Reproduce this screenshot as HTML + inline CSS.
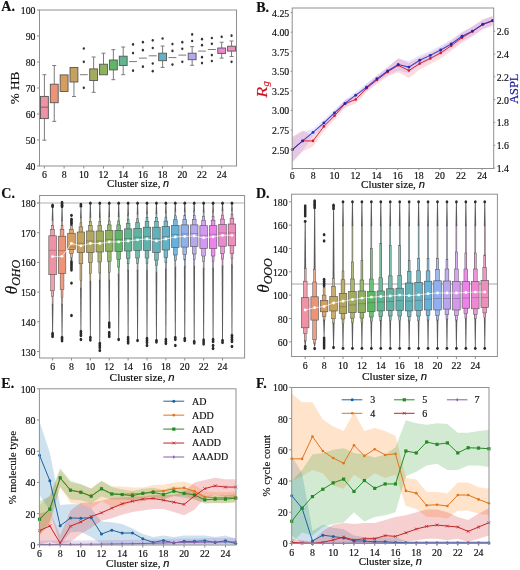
<!DOCTYPE html>
<html><head><meta charset="utf-8"><title>Figure</title>
<style>html,body{margin:0;padding:0;background:#fff;overflow:hidden;width:520px;height:570px}svg{display:block;filter:blur(0.3px)}</style>
</head><body>
<svg width="520" height="570" viewBox="0 0 520 570"><style>text{stroke:currentColor;stroke-width:0.18px}</style><line x1="44.4" y1="74.7" x2="44.4" y2="96.4" stroke="#7a7a7a" stroke-width="1"/>
<line x1="42.43" y1="74.7" x2="46.37" y2="74.7" stroke="#7a7a7a" stroke-width="1"/>
<line x1="44.4" y1="118.6" x2="44.4" y2="140.2" stroke="#7a7a7a" stroke-width="1"/>
<line x1="42.43" y1="140.2" x2="46.37" y2="140.2" stroke="#7a7a7a" stroke-width="1"/>
<rect x="40.46" y="96.4" width="7.88" height="22.2" fill="#ef92a3" stroke="#555555" stroke-width="0.9"/>
<line x1="40.46" y1="107.2" x2="48.34" y2="107.2" stroke="#5a5a5a" stroke-width="0.8"/>
<line x1="54.25" y1="65.5" x2="54.25" y2="84.2" stroke="#7a7a7a" stroke-width="1"/>
<line x1="52.28" y1="65.5" x2="56.22" y2="65.5" stroke="#7a7a7a" stroke-width="1"/>
<line x1="54.25" y1="102.7" x2="54.25" y2="121.4" stroke="#7a7a7a" stroke-width="1"/>
<line x1="52.28" y1="121.4" x2="56.22" y2="121.4" stroke="#7a7a7a" stroke-width="1"/>
<rect x="50.31" y="84.2" width="7.88" height="18.5" fill="#ed9378" stroke="#555555" stroke-width="0.9"/>
<rect x="60.16" y="74.9" width="7.88" height="16.6" fill="#d69d60" stroke="#555555" stroke-width="0.9"/>
<line x1="73.95" y1="82" x2="73.95" y2="96.5" stroke="#7a7a7a" stroke-width="1"/>
<line x1="71.98" y1="96.5" x2="75.92" y2="96.5" stroke="#7a7a7a" stroke-width="1"/>
<rect x="70.01" y="67.5" width="7.88" height="14.5" fill="#c3a35e" stroke="#555555" stroke-width="0.9"/>
<line x1="79.86" y1="74.7" x2="87.74" y2="74.7" stroke="#7a7a7a" stroke-width="1"/>
<ellipse cx="83.80" cy="48.50" rx="1.15" ry="1.35" fill="#333333"/>
<ellipse cx="83.80" cy="61.80" rx="1.15" ry="1.35" fill="#333333"/>
<ellipse cx="83.80" cy="87.80" rx="1.15" ry="1.35" fill="#333333"/>
<line x1="93.65" y1="57" x2="93.65" y2="68.9" stroke="#7a7a7a" stroke-width="1"/>
<line x1="91.68" y1="57" x2="95.62" y2="57" stroke="#7a7a7a" stroke-width="1"/>
<line x1="93.65" y1="80.5" x2="93.65" y2="92.3" stroke="#7a7a7a" stroke-width="1"/>
<line x1="91.68" y1="92.3" x2="95.62" y2="92.3" stroke="#7a7a7a" stroke-width="1"/>
<rect x="89.71" y="68.9" width="7.88" height="11.6" fill="#a3ab5c" stroke="#555555" stroke-width="0.9"/>
<line x1="103.5" y1="53.2" x2="103.5" y2="64.2" stroke="#7a7a7a" stroke-width="1"/>
<line x1="101.53" y1="53.2" x2="105.47" y2="53.2" stroke="#7a7a7a" stroke-width="1"/>
<rect x="99.56" y="64.2" width="7.88" height="10.6" fill="#8db15c" stroke="#555555" stroke-width="0.9"/>
<line x1="113.35" y1="49.7" x2="113.35" y2="60" stroke="#7a7a7a" stroke-width="1"/>
<line x1="111.38" y1="49.7" x2="115.32" y2="49.7" stroke="#7a7a7a" stroke-width="1"/>
<line x1="113.35" y1="69.9" x2="113.35" y2="79.7" stroke="#7a7a7a" stroke-width="1"/>
<line x1="111.38" y1="79.7" x2="115.32" y2="79.7" stroke="#7a7a7a" stroke-width="1"/>
<rect x="109.41" y="60" width="7.88" height="9.9" fill="#5db766" stroke="#555555" stroke-width="0.9"/>
<line x1="123.2" y1="47" x2="123.2" y2="56.2" stroke="#7a7a7a" stroke-width="1"/>
<line x1="121.23" y1="47" x2="125.17" y2="47" stroke="#7a7a7a" stroke-width="1"/>
<line x1="123.2" y1="65.5" x2="123.2" y2="74.7" stroke="#7a7a7a" stroke-width="1"/>
<line x1="121.23" y1="74.7" x2="125.17" y2="74.7" stroke="#7a7a7a" stroke-width="1"/>
<rect x="119.26" y="56.2" width="7.88" height="9.3" fill="#5eb590" stroke="#555555" stroke-width="0.9"/>
<line x1="129.11" y1="61.6" x2="136.99" y2="61.6" stroke="#7a7a7a" stroke-width="1"/>
<ellipse cx="133.05" cy="44.40" rx="1.15" ry="1.35" fill="#333333"/>
<ellipse cx="133.05" cy="53.10" rx="1.15" ry="1.35" fill="#333333"/>
<ellipse cx="133.05" cy="70.70" rx="1.15" ry="1.35" fill="#333333"/>
<line x1="138.96" y1="58.1" x2="146.84" y2="58.1" stroke="#7a7a7a" stroke-width="1"/>
<ellipse cx="142.90" cy="42.20" rx="1.15" ry="1.35" fill="#333333"/>
<ellipse cx="142.90" cy="50.20" rx="1.15" ry="1.35" fill="#333333"/>
<ellipse cx="142.90" cy="66.70" rx="1.15" ry="1.35" fill="#333333"/>
<line x1="148.81" y1="55.8" x2="156.69" y2="55.8" stroke="#7a7a7a" stroke-width="1"/>
<ellipse cx="152.75" cy="40.30" rx="1.15" ry="1.35" fill="#333333"/>
<ellipse cx="152.75" cy="48.00" rx="1.15" ry="1.35" fill="#333333"/>
<ellipse cx="152.75" cy="63.50" rx="1.15" ry="1.35" fill="#333333"/>
<ellipse cx="152.75" cy="71.20" rx="1.15" ry="1.35" fill="#333333"/>
<line x1="162.6" y1="46" x2="162.6" y2="53.2" stroke="#7a7a7a" stroke-width="1"/>
<line x1="160.63" y1="46" x2="164.57" y2="46" stroke="#7a7a7a" stroke-width="1"/>
<line x1="162.6" y1="60.7" x2="162.6" y2="67.4" stroke="#7a7a7a" stroke-width="1"/>
<line x1="160.63" y1="67.4" x2="164.57" y2="67.4" stroke="#7a7a7a" stroke-width="1"/>
<rect x="158.66" y="53.2" width="7.88" height="7.5" fill="#63b2c5" stroke="#555555" stroke-width="0.9"/>
<ellipse cx="162.60" cy="38.50" rx="1.15" ry="1.35" fill="#333333"/>
<line x1="168.51" y1="57.6" x2="176.39" y2="57.6" stroke="#7a7a7a" stroke-width="1"/>
<ellipse cx="172.45" cy="44.10" rx="1.15" ry="1.35" fill="#333333"/>
<ellipse cx="172.45" cy="50.90" rx="1.15" ry="1.35" fill="#333333"/>
<ellipse cx="172.45" cy="64.60" rx="1.15" ry="1.35" fill="#333333"/>
<line x1="178.36" y1="55.1" x2="186.24" y2="55.1" stroke="#7a7a7a" stroke-width="1"/>
<ellipse cx="182.30" cy="42.20" rx="1.15" ry="1.35" fill="#333333"/>
<ellipse cx="182.30" cy="48.80" rx="1.15" ry="1.35" fill="#333333"/>
<ellipse cx="182.30" cy="61.80" rx="1.15" ry="1.35" fill="#333333"/>
<line x1="192.15" y1="46.6" x2="192.15" y2="53.2" stroke="#7a7a7a" stroke-width="1"/>
<line x1="190.18" y1="46.6" x2="194.12" y2="46.6" stroke="#7a7a7a" stroke-width="1"/>
<line x1="192.15" y1="59.7" x2="192.15" y2="65.3" stroke="#7a7a7a" stroke-width="1"/>
<line x1="190.18" y1="65.3" x2="194.12" y2="65.3" stroke="#7a7a7a" stroke-width="1"/>
<rect x="188.21" y="53.2" width="7.88" height="6.5" fill="#b7a7ef" stroke="#555555" stroke-width="0.9"/>
<ellipse cx="192.15" cy="34.40" rx="1.15" ry="1.35" fill="#333333"/>
<ellipse cx="192.15" cy="41.00" rx="1.15" ry="1.35" fill="#333333"/>
<line x1="198.06" y1="51.1" x2="205.94" y2="51.1" stroke="#7a7a7a" stroke-width="1"/>
<ellipse cx="202.00" cy="39.20" rx="1.15" ry="1.35" fill="#333333"/>
<ellipse cx="202.00" cy="45.20" rx="1.15" ry="1.35" fill="#333333"/>
<ellipse cx="202.00" cy="57.20" rx="1.15" ry="1.35" fill="#333333"/>
<ellipse cx="202.00" cy="63.10" rx="1.15" ry="1.35" fill="#333333"/>
<line x1="207.91" y1="49.5" x2="215.79" y2="49.5" stroke="#7a7a7a" stroke-width="1"/>
<ellipse cx="211.85" cy="38.00" rx="1.15" ry="1.35" fill="#333333"/>
<ellipse cx="211.85" cy="43.80" rx="1.15" ry="1.35" fill="#333333"/>
<ellipse cx="211.85" cy="55.10" rx="1.15" ry="1.35" fill="#333333"/>
<ellipse cx="211.85" cy="61.00" rx="1.15" ry="1.35" fill="#333333"/>
<line x1="221.7" y1="42.2" x2="221.7" y2="48" stroke="#7a7a7a" stroke-width="1"/>
<line x1="219.73" y1="42.2" x2="223.67" y2="42.2" stroke="#7a7a7a" stroke-width="1"/>
<line x1="221.7" y1="53.4" x2="221.7" y2="58.1" stroke="#7a7a7a" stroke-width="1"/>
<line x1="219.73" y1="58.1" x2="223.67" y2="58.1" stroke="#7a7a7a" stroke-width="1"/>
<rect x="217.76" y="48" width="7.88" height="5.4" fill="#ed89d1" stroke="#555555" stroke-width="0.9"/>
<ellipse cx="221.70" cy="36.80" rx="1.15" ry="1.35" fill="#333333"/>
<line x1="231.55" y1="41" x2="231.55" y2="46.2" stroke="#7a7a7a" stroke-width="1"/>
<line x1="229.58" y1="41" x2="233.52" y2="41" stroke="#7a7a7a" stroke-width="1"/>
<line x1="231.55" y1="51.1" x2="231.55" y2="56.5" stroke="#7a7a7a" stroke-width="1"/>
<line x1="229.58" y1="56.5" x2="233.52" y2="56.5" stroke="#7a7a7a" stroke-width="1"/>
<rect x="227.61" y="46.2" width="7.88" height="4.9" fill="#ee8ebb" stroke="#555555" stroke-width="0.9"/>
<ellipse cx="231.55" cy="35.70" rx="1.15" ry="1.35" fill="#333333"/>
<ellipse cx="231.55" cy="61.80" rx="1.15" ry="1.35" fill="#333333"/>
<polygon points="292.4,136.6 302.6,130.4 313,135.4 323.9,121.9 334.5,111.8 345,99.7 355.7,95.5 366.5,84.3 376.9,76 387.6,67.4 398.2,58.3 408.9,63 419.7,57.6 430.3,52.9 440.7,47.4 451.2,40.7 462,32.7 472.4,26.5 482.8,19.5 492.6,16 492.6,26 482.8,29.5 472.4,36.5 462,42.7 451.2,50.7 440.7,58.4 430.3,63.9 419.7,69.6 408.9,78 398.2,72.3 387.6,76.4 376.9,84 366.5,92.3 355.7,103.5 345,107.7 334.5,119.8 323.9,130.9 313,146.4 302.6,151.4 292.4,162.6" fill="#f04a6a" stroke="none" stroke-width="1" fill-opacity="0.2"/>
<polygon points="292.4,137.6 302.6,131.4 313,128.9 323.9,119.4 334.5,109.4 345,99.9 355.7,91.7 366.5,83.8 376.9,75.3 387.6,67 398.2,58.5 408.9,61.1 419.7,55.3 430.3,50.9 440.7,45.5 451.2,39.5 462,31.8 472.4,26.6 482.8,19.7 492.6,15.9 492.6,24.9 482.8,28.7 472.4,35.6 462,40.8 451.2,48.5 440.7,54.5 430.3,59.9 419.7,65.3 408.9,73.1 398.2,70.5 387.6,75 376.9,82.3 366.5,90.8 355.7,98.7 345,106.9 334.5,116.4 323.9,126.4 313,135.9 302.6,150.4 292.4,161.6" fill="#6a66f0" stroke="none" stroke-width="1" fill-opacity="0.16"/>
<polyline points="292.4,149.6 302.6,140.9 313,140.9 323.9,126.4 334.5,115.8 345,103.7 355.7,99.5 366.5,88.3 376.9,80 387.6,71.9 398.2,65.3 408.9,70.5 419.7,63.6 430.3,58.4 440.7,52.9 451.2,45.7 462,37.7 472.4,31.5 482.8,24.5 492.6,21" fill="none" stroke="#d81c24" stroke-width="0.95"/>
<circle cx="292.4" cy="149.6" r="1.3" fill="#d01c24" stroke="none" stroke-width="0.5"/>
<circle cx="302.6" cy="140.9" r="1.3" fill="#d01c24" stroke="none" stroke-width="0.5"/>
<circle cx="313" cy="140.9" r="1.3" fill="#d01c24" stroke="none" stroke-width="0.5"/>
<circle cx="323.9" cy="126.4" r="1.3" fill="#d01c24" stroke="none" stroke-width="0.5"/>
<circle cx="334.5" cy="115.8" r="1.3" fill="#d01c24" stroke="none" stroke-width="0.5"/>
<circle cx="345" cy="103.7" r="1.3" fill="#d01c24" stroke="none" stroke-width="0.5"/>
<circle cx="355.7" cy="99.5" r="1.3" fill="#d01c24" stroke="none" stroke-width="0.5"/>
<circle cx="366.5" cy="88.3" r="1.3" fill="#d01c24" stroke="none" stroke-width="0.5"/>
<circle cx="376.9" cy="80" r="1.3" fill="#d01c24" stroke="none" stroke-width="0.5"/>
<circle cx="387.6" cy="71.9" r="1.3" fill="#d01c24" stroke="none" stroke-width="0.5"/>
<circle cx="398.2" cy="65.3" r="1.3" fill="#d01c24" stroke="none" stroke-width="0.5"/>
<circle cx="408.9" cy="70.5" r="1.3" fill="#d01c24" stroke="none" stroke-width="0.5"/>
<circle cx="419.7" cy="63.6" r="1.3" fill="#d01c24" stroke="none" stroke-width="0.5"/>
<circle cx="430.3" cy="58.4" r="1.3" fill="#d01c24" stroke="none" stroke-width="0.5"/>
<circle cx="440.7" cy="52.9" r="1.3" fill="#d01c24" stroke="none" stroke-width="0.5"/>
<circle cx="451.2" cy="45.7" r="1.3" fill="#d01c24" stroke="none" stroke-width="0.5"/>
<circle cx="462" cy="37.7" r="1.3" fill="#d01c24" stroke="none" stroke-width="0.5"/>
<circle cx="472.4" cy="31.5" r="1.3" fill="#d01c24" stroke="none" stroke-width="0.5"/>
<circle cx="482.8" cy="24.5" r="1.3" fill="#d01c24" stroke="none" stroke-width="0.5"/>
<circle cx="492.6" cy="21" r="1.3" fill="#d01c24" stroke="none" stroke-width="0.5"/>
<polyline points="292.4,149.6 302.6,140.9 313,132.4 323.9,122.9 334.5,112.9 345,103.4 355.7,95.2 366.5,87.3 376.9,78.8 387.6,71 398.2,64.5 408.9,67.1 419.7,60.3 430.3,55.4 440.7,50 451.2,44 462,36.3 472.4,31.1 482.8,24.2 492.6,20.4" fill="none" stroke="#2424c0" stroke-width="1.05" stroke-opacity="0.85"/>
<circle cx="292.4" cy="149.6" r="1.45" fill="#2222b0" stroke="none" stroke-width="0.5" fill-opacity="0.9"/>
<circle cx="302.6" cy="140.9" r="1.45" fill="#2222b0" stroke="none" stroke-width="0.5" fill-opacity="0.9"/>
<circle cx="313" cy="132.4" r="1.45" fill="#2222b0" stroke="none" stroke-width="0.5" fill-opacity="0.9"/>
<circle cx="323.9" cy="122.9" r="1.45" fill="#2222b0" stroke="none" stroke-width="0.5" fill-opacity="0.9"/>
<circle cx="334.5" cy="112.9" r="1.45" fill="#2222b0" stroke="none" stroke-width="0.5" fill-opacity="0.9"/>
<circle cx="345" cy="103.4" r="1.45" fill="#2222b0" stroke="none" stroke-width="0.5" fill-opacity="0.9"/>
<circle cx="355.7" cy="95.2" r="1.45" fill="#2222b0" stroke="none" stroke-width="0.5" fill-opacity="0.9"/>
<circle cx="366.5" cy="87.3" r="1.45" fill="#2222b0" stroke="none" stroke-width="0.5" fill-opacity="0.9"/>
<circle cx="376.9" cy="78.8" r="1.45" fill="#2222b0" stroke="none" stroke-width="0.5" fill-opacity="0.9"/>
<circle cx="387.6" cy="71" r="1.45" fill="#2222b0" stroke="none" stroke-width="0.5" fill-opacity="0.9"/>
<circle cx="398.2" cy="64.5" r="1.45" fill="#2222b0" stroke="none" stroke-width="0.5" fill-opacity="0.9"/>
<circle cx="408.9" cy="67.1" r="1.45" fill="#2222b0" stroke="none" stroke-width="0.5" fill-opacity="0.9"/>
<circle cx="419.7" cy="60.3" r="1.45" fill="#2222b0" stroke="none" stroke-width="0.5" fill-opacity="0.9"/>
<circle cx="430.3" cy="55.4" r="1.45" fill="#2222b0" stroke="none" stroke-width="0.5" fill-opacity="0.9"/>
<circle cx="440.7" cy="50" r="1.45" fill="#2222b0" stroke="none" stroke-width="0.5" fill-opacity="0.9"/>
<circle cx="451.2" cy="44" r="1.45" fill="#2222b0" stroke="none" stroke-width="0.5" fill-opacity="0.9"/>
<circle cx="462" cy="36.3" r="1.45" fill="#2222b0" stroke="none" stroke-width="0.5" fill-opacity="0.9"/>
<circle cx="472.4" cy="31.1" r="1.45" fill="#2222b0" stroke="none" stroke-width="0.5" fill-opacity="0.9"/>
<circle cx="482.8" cy="24.2" r="1.45" fill="#2222b0" stroke="none" stroke-width="0.5" fill-opacity="0.9"/>
<circle cx="492.6" cy="20.4" r="1.45" fill="#2222b0" stroke="none" stroke-width="0.5" fill-opacity="0.9"/>
<line x1="37.1" y1="203" x2="244.6" y2="203" stroke="#a6a6a6" stroke-width="0.9"/>
<polygon points="51.75,220.4 53.45,220.4 53.1,207.5 52.1,207.5" fill="#484848" stroke="none" stroke-width="1" fill-opacity="0.9"/>
<polygon points="51.75,303.4 53.45,303.4 53.05,332.4 52.15,332.4" fill="#484848" stroke="none" stroke-width="1" fill-opacity="0.9"/>
<rect x="52.13" y="220.4" width="0.94" height="83" fill="#f4b5c0" stroke="#505050" stroke-width="0.5"/>
<rect x="51.66" y="225.7" width="1.89" height="70.9" fill="#f2a9b6" stroke="#505050" stroke-width="0.5"/>
<rect x="50.71" y="229.6" width="3.78" height="61.2" fill="#f19ead" stroke="#505050" stroke-width="0.5"/>
<rect x="48.82" y="235.8" width="7.55" height="38.9" fill="#ef92a3" stroke="#505050" stroke-width="0.6"/>
<line x1="48.82" y1="250.3" x2="56.38" y2="250.3" stroke="#262626" stroke-width="0.7" stroke-opacity="0.35"/>
<ellipse cx="52.60" cy="205.20" rx="1.35" ry="1.65" fill="#2a2a2a"/>
<ellipse cx="52.60" cy="206.60" rx="1.35" ry="1.65" fill="#2a2a2a"/>
<ellipse cx="52.60" cy="333.50" rx="1.35" ry="1.65" fill="#2a2a2a"/>
<ellipse cx="52.60" cy="335.00" rx="1.35" ry="1.65" fill="#2a2a2a"/>
<ellipse cx="52.60" cy="336.60" rx="1.35" ry="1.65" fill="#2a2a2a"/>
<polygon points="61.19,221 62.89,221 62.54,207 61.54,207" fill="#484848" stroke="none" stroke-width="1" fill-opacity="0.9"/>
<polygon points="61.19,303.4 62.89,303.4 62.49,336.6 61.59,336.6" fill="#484848" stroke="none" stroke-width="1" fill-opacity="0.9"/>
<rect x="61.57" y="221" width="0.94" height="82.4" fill="#f3b6a3" stroke="#505050" stroke-width="0.5"/>
<rect x="61.1" y="225.5" width="1.89" height="72.1" fill="#f1aa95" stroke="#505050" stroke-width="0.5"/>
<rect x="60.15" y="229.5" width="3.78" height="60.2" fill="#ef9e86" stroke="#505050" stroke-width="0.5"/>
<rect x="58.26" y="236.2" width="7.55" height="37.2" fill="#ed9378" stroke="#505050" stroke-width="0.6"/>
<line x1="58.26" y1="250.5" x2="65.82" y2="250.5" stroke="#262626" stroke-width="0.7" stroke-opacity="0.35"/>
<ellipse cx="62.04" cy="202.50" rx="1.35" ry="1.65" fill="#2a2a2a"/>
<ellipse cx="62.04" cy="203.80" rx="1.35" ry="1.65" fill="#2a2a2a"/>
<ellipse cx="62.04" cy="205.20" rx="1.35" ry="1.65" fill="#2a2a2a"/>
<ellipse cx="62.04" cy="206.50" rx="1.35" ry="1.65" fill="#2a2a2a"/>
<ellipse cx="62.04" cy="337.50" rx="1.35" ry="1.65" fill="#2a2a2a"/>
<ellipse cx="62.04" cy="339.00" rx="1.35" ry="1.65" fill="#2a2a2a"/>
<ellipse cx="62.04" cy="340.80" rx="1.35" ry="1.65" fill="#2a2a2a"/>
<polygon points="70.54,257.5 72.42,257.5 71.93,271 71.03,271" fill="#484848" stroke="none" stroke-width="1" fill-opacity="0.9"/>
<rect x="70.54" y="225.4" width="1.89" height="32.1" fill="#dfb282" stroke="#505050" stroke-width="0.5"/>
<rect x="69.59" y="229.3" width="3.78" height="24.1" fill="#daa771" stroke="#505050" stroke-width="0.5"/>
<rect x="67.7" y="233.2" width="7.55" height="16.3" fill="#d69d60" stroke="#505050" stroke-width="0.6"/>
<line x1="67.7" y1="247" x2="75.26" y2="247" stroke="#262626" stroke-width="0.7" stroke-opacity="0.35"/>
<ellipse cx="71.48" cy="215.30" rx="1.35" ry="1.65" fill="#2a2a2a"/>
<ellipse cx="71.48" cy="219.20" rx="1.35" ry="1.65" fill="#2a2a2a"/>
<ellipse cx="71.48" cy="220.80" rx="1.35" ry="1.65" fill="#2a2a2a"/>
<ellipse cx="71.48" cy="222.40" rx="1.35" ry="1.65" fill="#2a2a2a"/>
<ellipse cx="71.48" cy="224.00" rx="1.35" ry="1.65" fill="#2a2a2a"/>
<ellipse cx="71.48" cy="262.00" rx="1.35" ry="1.65" fill="#2a2a2a"/>
<ellipse cx="71.48" cy="264.00" rx="1.35" ry="1.65" fill="#2a2a2a"/>
<ellipse cx="71.48" cy="266.00" rx="1.35" ry="1.65" fill="#2a2a2a"/>
<ellipse cx="71.48" cy="268.00" rx="1.35" ry="1.65" fill="#2a2a2a"/>
<ellipse cx="71.48" cy="270.00" rx="1.35" ry="1.65" fill="#2a2a2a"/>
<ellipse cx="71.48" cy="283.10" rx="1.35" ry="1.65" fill="#2a2a2a"/>
<ellipse cx="71.48" cy="315.50" rx="1.35" ry="1.65" fill="#2a2a2a"/>
<polygon points="80.07,218 81.77,218 81.42,208 80.42,208" fill="#484848" stroke="none" stroke-width="1" fill-opacity="0.9"/>
<polygon points="80.07,288 81.77,288 81.37,330 80.47,330" fill="#484848" stroke="none" stroke-width="1" fill-opacity="0.9"/>
<rect x="80.45" y="218" width="0.94" height="70" fill="#d6c091" stroke="#505050" stroke-width="0.5"/>
<rect x="79.98" y="222.9" width="1.89" height="57.8" fill="#d0b680" stroke="#505050" stroke-width="0.5"/>
<rect x="79.03" y="226.9" width="3.78" height="36.9" fill="#c9ad6f" stroke="#505050" stroke-width="0.5"/>
<rect x="77.14" y="232" width="7.55" height="20.5" fill="#c3a35e" stroke="#505050" stroke-width="0.6"/>
<line x1="77.14" y1="243.3" x2="84.7" y2="243.3" stroke="#262626" stroke-width="0.7" stroke-opacity="0.35"/>
<ellipse cx="80.92" cy="204.50" rx="1.35" ry="1.65" fill="#2a2a2a"/>
<ellipse cx="80.92" cy="206.20" rx="1.35" ry="1.65" fill="#2a2a2a"/>
<ellipse cx="80.92" cy="331.50" rx="1.35" ry="1.65" fill="#2a2a2a"/>
<ellipse cx="80.92" cy="333.50" rx="1.35" ry="1.65" fill="#2a2a2a"/>
<ellipse cx="80.92" cy="335.50" rx="1.35" ry="1.65" fill="#2a2a2a"/>
<ellipse cx="80.92" cy="339.50" rx="1.35" ry="1.65" fill="#2a2a2a"/>
<polygon points="89.51,217.5 91.21,217.5 90.86,203.5 89.86,203.5" fill="#484848" stroke="none" stroke-width="1" fill-opacity="0.9"/>
<polygon points="89.51,280.6 91.21,280.6 90.81,336.7 89.91,336.7" fill="#484848" stroke="none" stroke-width="1" fill-opacity="0.9"/>
<rect x="89.89" y="217.5" width="0.94" height="63.1" fill="#cbc391" stroke="#505050" stroke-width="0.5"/>
<rect x="89.42" y="221.5" width="1.89" height="52.1" fill="#c3ba80" stroke="#505050" stroke-width="0.5"/>
<rect x="88.47" y="225.5" width="3.78" height="37.1" fill="#bbb06e" stroke="#505050" stroke-width="0.5"/>
<rect x="86.58" y="231" width="7.55" height="21.6" fill="#b3a75d" stroke="#505050" stroke-width="0.6"/>
<line x1="86.58" y1="241" x2="94.14" y2="241" stroke="#262626" stroke-width="0.7" stroke-opacity="0.35"/>
<ellipse cx="90.36" cy="203.20" rx="1.35" ry="1.65" fill="#2a2a2a"/>
<ellipse cx="90.36" cy="337.50" rx="1.35" ry="1.65" fill="#2a2a2a"/>
<ellipse cx="90.36" cy="340.00" rx="1.35" ry="1.65" fill="#2a2a2a"/>
<polygon points="98.95,217.5 100.65,217.5 100.3,203.5 99.3,203.5" fill="#484848" stroke="none" stroke-width="1" fill-opacity="0.9"/>
<polygon points="98.95,280 100.65,280 100.25,342.7 99.35,342.7" fill="#484848" stroke="none" stroke-width="1" fill-opacity="0.9"/>
<rect x="99.33" y="217.5" width="0.94" height="62.5" fill="#c0c690" stroke="#505050" stroke-width="0.5"/>
<rect x="98.86" y="221.5" width="1.89" height="51.5" fill="#b6bd7f" stroke="#505050" stroke-width="0.5"/>
<rect x="97.91" y="225.5" width="3.78" height="36.5" fill="#adb46d" stroke="#505050" stroke-width="0.5"/>
<rect x="96.02" y="231" width="7.55" height="21" fill="#a3ab5c" stroke="#505050" stroke-width="0.6"/>
<line x1="96.02" y1="241" x2="103.58" y2="241" stroke="#262626" stroke-width="0.7" stroke-opacity="0.35"/>
<ellipse cx="99.80" cy="203.20" rx="1.35" ry="1.65" fill="#2a2a2a"/>
<ellipse cx="99.80" cy="343.50" rx="1.35" ry="1.65" fill="#2a2a2a"/>
<ellipse cx="99.80" cy="345.50" rx="1.35" ry="1.65" fill="#2a2a2a"/>
<ellipse cx="99.80" cy="347.50" rx="1.35" ry="1.65" fill="#2a2a2a"/>
<ellipse cx="99.80" cy="350.50" rx="1.35" ry="1.65" fill="#2a2a2a"/>
<polygon points="108.39,216.9 110.09,216.9 109.74,203.5 108.74,203.5" fill="#484848" stroke="none" stroke-width="1" fill-opacity="0.9"/>
<polygon points="108.39,279.2 110.09,279.2 109.69,322.5 108.79,322.5" fill="#484848" stroke="none" stroke-width="1" fill-opacity="0.9"/>
<rect x="108.77" y="216.9" width="0.94" height="62.3" fill="#b1ca90" stroke="#505050" stroke-width="0.5"/>
<rect x="108.3" y="220.9" width="1.89" height="51.3" fill="#a5c27f" stroke="#505050" stroke-width="0.5"/>
<rect x="107.35" y="224.9" width="3.78" height="36.3" fill="#99b96d" stroke="#505050" stroke-width="0.5"/>
<rect x="105.46" y="230.4" width="7.55" height="20.8" fill="#8db15c" stroke="#505050" stroke-width="0.6"/>
<line x1="105.46" y1="239.4" x2="113.02" y2="239.4" stroke="#262626" stroke-width="0.7" stroke-opacity="0.35"/>
<ellipse cx="109.24" cy="203.20" rx="1.35" ry="1.65" fill="#2a2a2a"/>
<ellipse cx="109.24" cy="323.00" rx="1.35" ry="1.65" fill="#2a2a2a"/>
<ellipse cx="109.24" cy="325.00" rx="1.35" ry="1.65" fill="#2a2a2a"/>
<ellipse cx="109.24" cy="327.00" rx="1.35" ry="1.65" fill="#2a2a2a"/>
<ellipse cx="109.24" cy="332.50" rx="1.35" ry="1.65" fill="#2a2a2a"/>
<ellipse cx="109.24" cy="334.50" rx="1.35" ry="1.65" fill="#2a2a2a"/>
<ellipse cx="109.24" cy="336.50" rx="1.35" ry="1.65" fill="#2a2a2a"/>
<polygon points="117.83,216.9 119.53,216.9 119.18,203.5 118.18,203.5" fill="#484848" stroke="none" stroke-width="1" fill-opacity="0.9"/>
<polygon points="117.83,273.6 119.53,273.6 119.13,338.7 118.23,338.7" fill="#484848" stroke="none" stroke-width="1" fill-opacity="0.9"/>
<rect x="118.21" y="216.9" width="0.94" height="56.7" fill="#91ce97" stroke="#505050" stroke-width="0.5"/>
<rect x="117.74" y="220.9" width="1.89" height="46.2" fill="#80c686" stroke="#505050" stroke-width="0.5"/>
<rect x="116.79" y="224.9" width="3.78" height="34.7" fill="#6ebf76" stroke="#505050" stroke-width="0.5"/>
<rect x="114.9" y="230.4" width="7.55" height="21.2" fill="#5db766" stroke="#505050" stroke-width="0.6"/>
<line x1="114.9" y1="239.4" x2="122.46" y2="239.4" stroke="#262626" stroke-width="0.7" stroke-opacity="0.35"/>
<ellipse cx="118.68" cy="203.20" rx="1.35" ry="1.65" fill="#2a2a2a"/>
<ellipse cx="118.68" cy="339.50" rx="1.35" ry="1.65" fill="#2a2a2a"/>
<polygon points="127.27,215.4 128.97,215.4 128.62,203.5 127.62,203.5" fill="#484848" stroke="none" stroke-width="1" fill-opacity="0.9"/>
<polygon points="127.27,270 128.97,270 128.57,336.7 127.67,336.7" fill="#484848" stroke="none" stroke-width="1" fill-opacity="0.9"/>
<rect x="127.65" y="215.4" width="0.94" height="54.6" fill="#91cdb3" stroke="#505050" stroke-width="0.5"/>
<rect x="127.18" y="219.4" width="1.89" height="44.4" fill="#80c5a8" stroke="#505050" stroke-width="0.5"/>
<rect x="126.23" y="223.4" width="3.78" height="35.1" fill="#6fbd9c" stroke="#505050" stroke-width="0.5"/>
<rect x="124.34" y="228.9" width="7.55" height="22.1" fill="#5eb590" stroke="#505050" stroke-width="0.6"/>
<line x1="124.34" y1="238.5" x2="131.9" y2="238.5" stroke="#262626" stroke-width="0.7" stroke-opacity="0.35"/>
<ellipse cx="128.12" cy="203.20" rx="1.35" ry="1.65" fill="#2a2a2a"/>
<ellipse cx="128.12" cy="337.50" rx="1.35" ry="1.65" fill="#2a2a2a"/>
<ellipse cx="128.12" cy="339.50" rx="1.35" ry="1.65" fill="#2a2a2a"/>
<ellipse cx="128.12" cy="341.50" rx="1.35" ry="1.65" fill="#2a2a2a"/>
<ellipse cx="128.12" cy="343.00" rx="1.35" ry="1.65" fill="#2a2a2a"/>
<polygon points="136.71,214.8 138.41,214.8 138.06,203.5 137.06,203.5" fill="#484848" stroke="none" stroke-width="1" fill-opacity="0.9"/>
<polygon points="136.71,269.5 138.41,269.5 138.01,339.7 137.11,339.7" fill="#484848" stroke="none" stroke-width="1" fill-opacity="0.9"/>
<rect x="137.09" y="214.8" width="0.94" height="54.7" fill="#92ccbf" stroke="#505050" stroke-width="0.5"/>
<rect x="136.62" y="218.8" width="1.89" height="44.5" fill="#81c4b5" stroke="#505050" stroke-width="0.5"/>
<rect x="135.67" y="222.8" width="3.78" height="35.2" fill="#70bcab" stroke="#505050" stroke-width="0.5"/>
<rect x="133.78" y="228.3" width="7.55" height="22.2" fill="#5fb4a1" stroke="#505050" stroke-width="0.6"/>
<line x1="133.78" y1="237.3" x2="141.34" y2="237.3" stroke="#262626" stroke-width="0.7" stroke-opacity="0.35"/>
<ellipse cx="137.56" cy="203.20" rx="1.35" ry="1.65" fill="#2a2a2a"/>
<ellipse cx="137.56" cy="340.50" rx="1.35" ry="1.65" fill="#2a2a2a"/>
<polygon points="146.15,213.7 147.85,213.7 147.5,203.5 146.5,203.5" fill="#484848" stroke="none" stroke-width="1" fill-opacity="0.9"/>
<polygon points="146.15,269.5 147.85,269.5 147.45,337.7 146.55,337.7" fill="#484848" stroke="none" stroke-width="1" fill-opacity="0.9"/>
<rect x="146.53" y="213.7" width="0.94" height="55.8" fill="#93cbc7" stroke="#505050" stroke-width="0.5"/>
<rect x="146.06" y="217.7" width="1.89" height="45.6" fill="#82c3be" stroke="#505050" stroke-width="0.5"/>
<rect x="145.11" y="221.7" width="3.78" height="36.3" fill="#71bbb6" stroke="#505050" stroke-width="0.5"/>
<rect x="143.22" y="227.2" width="7.55" height="23.3" fill="#60b3ad" stroke="#505050" stroke-width="0.6"/>
<line x1="143.22" y1="236.5" x2="150.78" y2="236.5" stroke="#262626" stroke-width="0.7" stroke-opacity="0.35"/>
<ellipse cx="147.00" cy="203.20" rx="1.35" ry="1.65" fill="#2a2a2a"/>
<ellipse cx="147.00" cy="338.50" rx="1.35" ry="1.65" fill="#2a2a2a"/>
<ellipse cx="147.00" cy="340.50" rx="1.35" ry="1.65" fill="#2a2a2a"/>
<ellipse cx="147.00" cy="342.50" rx="1.35" ry="1.65" fill="#2a2a2a"/>
<ellipse cx="147.00" cy="345.50" rx="1.35" ry="1.65" fill="#2a2a2a"/>
<polygon points="155.59,213.7 157.29,213.7 156.94,203.5 155.94,203.5" fill="#484848" stroke="none" stroke-width="1" fill-opacity="0.9"/>
<polygon points="155.59,271.6 157.29,271.6 156.89,339.7 155.99,339.7" fill="#484848" stroke="none" stroke-width="1" fill-opacity="0.9"/>
<rect x="155.97" y="213.7" width="0.94" height="57.9" fill="#93cace" stroke="#505050" stroke-width="0.5"/>
<rect x="155.5" y="217.7" width="1.89" height="47.7" fill="#82c2c7" stroke="#505050" stroke-width="0.5"/>
<rect x="154.55" y="221.7" width="3.78" height="38.4" fill="#72bac0" stroke="#505050" stroke-width="0.5"/>
<rect x="152.66" y="227.2" width="7.55" height="25.4" fill="#61b2b8" stroke="#505050" stroke-width="0.6"/>
<line x1="152.66" y1="238.5" x2="160.22" y2="238.5" stroke="#262626" stroke-width="0.7" stroke-opacity="0.35"/>
<ellipse cx="156.44" cy="203.20" rx="1.35" ry="1.65" fill="#2a2a2a"/>
<ellipse cx="156.44" cy="340.50" rx="1.35" ry="1.65" fill="#2a2a2a"/>
<ellipse cx="156.44" cy="342.00" rx="1.35" ry="1.65" fill="#2a2a2a"/>
<polygon points="165.03,213.1 166.73,213.1 166.38,203.5 165.38,203.5" fill="#484848" stroke="none" stroke-width="1" fill-opacity="0.9"/>
<polygon points="165.03,269 166.73,269 166.33,338.7 165.43,338.7" fill="#484848" stroke="none" stroke-width="1" fill-opacity="0.9"/>
<rect x="165.41" y="213.1" width="0.94" height="55.9" fill="#95cad7" stroke="#505050" stroke-width="0.5"/>
<rect x="164.94" y="217.1" width="1.89" height="45.7" fill="#84c2d1" stroke="#505050" stroke-width="0.5"/>
<rect x="163.99" y="221.1" width="3.78" height="36.4" fill="#74bacb" stroke="#505050" stroke-width="0.5"/>
<rect x="162.1" y="226.6" width="7.55" height="23.4" fill="#63b2c5" stroke="#505050" stroke-width="0.6"/>
<line x1="162.1" y1="236.5" x2="169.66" y2="236.5" stroke="#262626" stroke-width="0.7" stroke-opacity="0.35"/>
<ellipse cx="165.88" cy="203.20" rx="1.35" ry="1.65" fill="#2a2a2a"/>
<ellipse cx="165.88" cy="339.50" rx="1.35" ry="1.65" fill="#2a2a2a"/>
<ellipse cx="165.88" cy="341.50" rx="1.35" ry="1.65" fill="#2a2a2a"/>
<ellipse cx="165.88" cy="343.50" rx="1.35" ry="1.65" fill="#2a2a2a"/>
<polygon points="174.47,211.8 176.17,211.8 175.82,203.5 174.82,203.5" fill="#484848" stroke="none" stroke-width="1" fill-opacity="0.9"/>
<polygon points="174.47,266.5 176.17,266.5 175.77,336.7 174.87,336.7" fill="#484848" stroke="none" stroke-width="1" fill-opacity="0.9"/>
<rect x="174.85" y="211.8" width="0.94" height="54.7" fill="#97cae5" stroke="#505050" stroke-width="0.5"/>
<rect x="174.38" y="215.8" width="1.89" height="44.5" fill="#87c2e1" stroke="#505050" stroke-width="0.5"/>
<rect x="173.43" y="219.8" width="3.78" height="35.2" fill="#77b9dd" stroke="#505050" stroke-width="0.5"/>
<rect x="171.54" y="225.3" width="7.55" height="22.2" fill="#67b1d9" stroke="#505050" stroke-width="0.6"/>
<line x1="171.54" y1="234.5" x2="179.1" y2="234.5" stroke="#262626" stroke-width="0.7" stroke-opacity="0.35"/>
<ellipse cx="175.32" cy="203.20" rx="1.35" ry="1.65" fill="#2a2a2a"/>
<ellipse cx="175.32" cy="337.50" rx="1.35" ry="1.65" fill="#2a2a2a"/>
<ellipse cx="175.32" cy="339.50" rx="1.35" ry="1.65" fill="#2a2a2a"/>
<ellipse cx="175.32" cy="345.50" rx="1.35" ry="1.65" fill="#2a2a2a"/>
<polygon points="183.91,211.4 185.61,211.4 185.26,203.5 184.26,203.5" fill="#484848" stroke="none" stroke-width="1" fill-opacity="0.9"/>
<polygon points="183.91,266.1 185.61,266.1 185.21,337.7 184.31,337.7" fill="#484848" stroke="none" stroke-width="1" fill-opacity="0.9"/>
<rect x="184.29" y="211.4" width="0.94" height="54.7" fill="#b3c8f3" stroke="#505050" stroke-width="0.5"/>
<rect x="183.82" y="215.4" width="1.89" height="44.5" fill="#a8c0f1" stroke="#505050" stroke-width="0.5"/>
<rect x="182.87" y="219.4" width="3.78" height="35.2" fill="#9cb8ef" stroke="#505050" stroke-width="0.5"/>
<rect x="180.98" y="224.9" width="7.55" height="22.2" fill="#90afed" stroke="#505050" stroke-width="0.6"/>
<line x1="180.98" y1="233.9" x2="188.54" y2="233.9" stroke="#262626" stroke-width="0.7" stroke-opacity="0.35"/>
<ellipse cx="184.76" cy="203.20" rx="1.35" ry="1.65" fill="#2a2a2a"/>
<ellipse cx="184.76" cy="338.50" rx="1.35" ry="1.65" fill="#2a2a2a"/>
<ellipse cx="184.76" cy="340.50" rx="1.35" ry="1.65" fill="#2a2a2a"/>
<polygon points="193.35,211.4 195.05,211.4 194.7,203.5 193.7,203.5" fill="#484848" stroke="none" stroke-width="1" fill-opacity="0.9"/>
<polygon points="193.35,265.5 195.05,265.5 194.65,340.7 193.75,340.7" fill="#484848" stroke="none" stroke-width="1" fill-opacity="0.9"/>
<rect x="193.73" y="211.4" width="0.94" height="54.1" fill="#cec3f4" stroke="#505050" stroke-width="0.5"/>
<rect x="193.26" y="215.4" width="1.89" height="43.9" fill="#c6baf2" stroke="#505050" stroke-width="0.5"/>
<rect x="192.31" y="219.4" width="3.78" height="34.6" fill="#bfb0f1" stroke="#505050" stroke-width="0.5"/>
<rect x="190.42" y="224.9" width="7.55" height="21.6" fill="#b7a7ef" stroke="#505050" stroke-width="0.6"/>
<line x1="190.42" y1="233.5" x2="197.98" y2="233.5" stroke="#262626" stroke-width="0.7" stroke-opacity="0.35"/>
<ellipse cx="194.20" cy="203.20" rx="1.35" ry="1.65" fill="#2a2a2a"/>
<ellipse cx="194.20" cy="341.50" rx="1.35" ry="1.65" fill="#2a2a2a"/>
<ellipse cx="194.20" cy="343.00" rx="1.35" ry="1.65" fill="#2a2a2a"/>
<polygon points="202.79,212.2 204.49,212.2 204.14,203.5 203.14,203.5" fill="#484848" stroke="none" stroke-width="1" fill-opacity="0.9"/>
<polygon points="202.79,267.5 204.49,267.5 204.09,339 203.19,339" fill="#484848" stroke="none" stroke-width="1" fill-opacity="0.9"/>
<rect x="203.17" y="212.2" width="0.94" height="55.3" fill="#e0baf3" stroke="#505050" stroke-width="0.5"/>
<rect x="202.7" y="216.2" width="1.89" height="45.1" fill="#dcaff2" stroke="#505050" stroke-width="0.5"/>
<rect x="201.75" y="220.2" width="3.78" height="35.8" fill="#d7a4f0" stroke="#505050" stroke-width="0.5"/>
<rect x="199.86" y="225.7" width="7.55" height="22.8" fill="#d299ee" stroke="#505050" stroke-width="0.6"/>
<line x1="199.86" y1="235.3" x2="207.42" y2="235.3" stroke="#262626" stroke-width="0.7" stroke-opacity="0.35"/>
<ellipse cx="203.64" cy="203.20" rx="1.35" ry="1.65" fill="#2a2a2a"/>
<ellipse cx="203.64" cy="340.00" rx="1.35" ry="1.65" fill="#2a2a2a"/>
<ellipse cx="203.64" cy="342.00" rx="1.35" ry="1.65" fill="#2a2a2a"/>
<ellipse cx="203.64" cy="344.00" rx="1.35" ry="1.65" fill="#2a2a2a"/>
<polygon points="212.23,212.2 213.93,212.2 213.58,203.5 212.58,203.5" fill="#484848" stroke="none" stroke-width="1" fill-opacity="0.9"/>
<polygon points="212.23,267.5 213.93,267.5 213.53,338.7 212.63,338.7" fill="#484848" stroke="none" stroke-width="1" fill-opacity="0.9"/>
<rect x="212.61" y="212.2" width="0.94" height="55.3" fill="#f2aaf1" stroke="#505050" stroke-width="0.5"/>
<rect x="212.14" y="216.2" width="1.89" height="45.1" fill="#f09cee" stroke="#505050" stroke-width="0.5"/>
<rect x="211.19" y="220.2" width="3.78" height="35.8" fill="#ee8fec" stroke="#505050" stroke-width="0.5"/>
<rect x="209.3" y="225.7" width="7.55" height="22.8" fill="#ec82ea" stroke="#505050" stroke-width="0.6"/>
<line x1="209.3" y1="234.3" x2="216.86" y2="234.3" stroke="#262626" stroke-width="0.7" stroke-opacity="0.35"/>
<ellipse cx="213.08" cy="203.20" rx="1.35" ry="1.65" fill="#2a2a2a"/>
<ellipse cx="213.08" cy="339.50" rx="1.35" ry="1.65" fill="#2a2a2a"/>
<ellipse cx="213.08" cy="341.50" rx="1.35" ry="1.65" fill="#2a2a2a"/>
<ellipse cx="213.08" cy="345.50" rx="1.35" ry="1.65" fill="#2a2a2a"/>
<ellipse cx="213.08" cy="348.50" rx="1.35" ry="1.65" fill="#2a2a2a"/>
<polygon points="221.67,211.1 223.37,211.1 223.02,203.5 222.02,203.5" fill="#484848" stroke="none" stroke-width="1" fill-opacity="0.9"/>
<polygon points="221.67,265.2 223.37,265.2 222.97,339.7 222.07,339.7" fill="#484848" stroke="none" stroke-width="1" fill-opacity="0.9"/>
<rect x="222.05" y="211.1" width="0.94" height="54.1" fill="#f3aee0" stroke="#505050" stroke-width="0.5"/>
<rect x="221.58" y="215.1" width="1.89" height="43.9" fill="#f1a2db" stroke="#505050" stroke-width="0.5"/>
<rect x="220.63" y="219.1" width="3.78" height="34.6" fill="#ef96d6" stroke="#505050" stroke-width="0.5"/>
<rect x="218.74" y="224.6" width="7.55" height="21.6" fill="#ed89d1" stroke="#505050" stroke-width="0.6"/>
<line x1="218.74" y1="232.9" x2="226.3" y2="232.9" stroke="#262626" stroke-width="0.7" stroke-opacity="0.35"/>
<ellipse cx="222.52" cy="203.20" rx="1.35" ry="1.65" fill="#2a2a2a"/>
<ellipse cx="222.52" cy="340.50" rx="1.35" ry="1.65" fill="#2a2a2a"/>
<ellipse cx="222.52" cy="342.50" rx="1.35" ry="1.65" fill="#2a2a2a"/>
<polygon points="231.11,210.5 232.81,210.5 232.46,203.5 231.46,203.5" fill="#484848" stroke="none" stroke-width="1" fill-opacity="0.9"/>
<polygon points="231.11,264.8 232.81,264.8 232.41,334.6 231.51,334.6" fill="#484848" stroke="none" stroke-width="1" fill-opacity="0.9"/>
<rect x="231.49" y="210.5" width="0.94" height="54.3" fill="#f3b2d1" stroke="#505050" stroke-width="0.5"/>
<rect x="231.02" y="214.5" width="1.89" height="44.1" fill="#f2a6ca" stroke="#505050" stroke-width="0.5"/>
<rect x="230.07" y="218.5" width="3.78" height="34.8" fill="#f09ac2" stroke="#505050" stroke-width="0.5"/>
<rect x="228.18" y="224" width="7.55" height="21.8" fill="#ee8ebb" stroke="#505050" stroke-width="0.6"/>
<line x1="228.18" y1="232.8" x2="235.74" y2="232.8" stroke="#262626" stroke-width="0.7" stroke-opacity="0.35"/>
<ellipse cx="231.96" cy="203.20" rx="1.35" ry="1.65" fill="#2a2a2a"/>
<ellipse cx="231.96" cy="335.50" rx="1.35" ry="1.65" fill="#2a2a2a"/>
<ellipse cx="231.96" cy="337.50" rx="1.35" ry="1.65" fill="#2a2a2a"/>
<ellipse cx="231.96" cy="339.50" rx="1.35" ry="1.65" fill="#2a2a2a"/>
<ellipse cx="231.96" cy="341.50" rx="1.35" ry="1.65" fill="#2a2a2a"/>
<ellipse cx="231.96" cy="346.50" rx="1.35" ry="1.65" fill="#2a2a2a"/>
<polyline points="52.6,256.6 62.04,256.3 71.48,243.4 80.92,245.8 90.36,243.5 99.8,243.5 109.24,241.9 118.68,241.9 128.12,241 137.56,239.8 147,239 156.44,241 165.88,239 175.32,237 184.76,236.4 194.2,236 203.64,237.8 213.08,236.8 222.52,235.4 231.96,235.3" fill="none" stroke="#ffffff" stroke-width="0.8" stroke-opacity="0.85"/>
<circle cx="52.6" cy="256.6" r="1.4" fill="#ffffff" stroke="none" stroke-width="0.5"/>
<circle cx="62.04" cy="256.3" r="1.4" fill="#ffffff" stroke="none" stroke-width="0.5"/>
<circle cx="71.48" cy="243.4" r="1.4" fill="#ffffff" stroke="none" stroke-width="0.5"/>
<circle cx="80.92" cy="245.8" r="1.4" fill="#ffffff" stroke="none" stroke-width="0.5"/>
<circle cx="90.36" cy="243.5" r="1.4" fill="#ffffff" stroke="none" stroke-width="0.5"/>
<circle cx="99.8" cy="243.5" r="1.4" fill="#ffffff" stroke="none" stroke-width="0.5"/>
<circle cx="109.24" cy="241.9" r="1.4" fill="#ffffff" stroke="none" stroke-width="0.5"/>
<circle cx="118.68" cy="241.9" r="1.4" fill="#ffffff" stroke="none" stroke-width="0.5"/>
<circle cx="128.12" cy="241" r="1.4" fill="#ffffff" stroke="none" stroke-width="0.5"/>
<circle cx="137.56" cy="239.8" r="1.4" fill="#ffffff" stroke="none" stroke-width="0.5"/>
<circle cx="147" cy="239" r="1.4" fill="#ffffff" stroke="none" stroke-width="0.5"/>
<circle cx="156.44" cy="241" r="1.4" fill="#ffffff" stroke="none" stroke-width="0.5"/>
<circle cx="165.88" cy="239" r="1.4" fill="#ffffff" stroke="none" stroke-width="0.5"/>
<circle cx="175.32" cy="237" r="1.4" fill="#ffffff" stroke="none" stroke-width="0.5"/>
<circle cx="184.76" cy="236.4" r="1.4" fill="#ffffff" stroke="none" stroke-width="0.5"/>
<circle cx="194.2" cy="236" r="1.4" fill="#ffffff" stroke="none" stroke-width="0.5"/>
<circle cx="203.64" cy="237.8" r="1.4" fill="#ffffff" stroke="none" stroke-width="0.5"/>
<circle cx="213.08" cy="236.8" r="1.4" fill="#ffffff" stroke="none" stroke-width="0.5"/>
<circle cx="222.52" cy="235.4" r="1.4" fill="#ffffff" stroke="none" stroke-width="0.5"/>
<circle cx="231.96" cy="235.3" r="1.4" fill="#ffffff" stroke="none" stroke-width="0.5"/>
<line x1="291.6" y1="284" x2="497.4" y2="284" stroke="#8a8a8a" stroke-width="0.75"/>
<polygon points="304.25,268.7 306.14,268.7 305.7,221.3 304.7,221.3" fill="#484848" stroke="none" stroke-width="1" fill-opacity="0.9"/>
<polygon points="304.25,340.8 306.14,340.8 305.65,345.5 304.75,345.5" fill="#484848" stroke="none" stroke-width="1" fill-opacity="0.9"/>
<rect x="304.25" y="268.7" width="1.89" height="72.1" fill="#f2a9b6" stroke="#505050" stroke-width="0.5"/>
<rect x="303.31" y="281.2" width="3.78" height="52.2" fill="#f19ead" stroke="#505050" stroke-width="0.5"/>
<rect x="301.42" y="297.7" width="7.56" height="30.1" fill="#ef92a3" stroke="#505050" stroke-width="0.6"/>
<ellipse cx="305.20" cy="206.00" rx="1.35" ry="1.65" fill="#2a2a2a"/>
<ellipse cx="305.20" cy="208.00" rx="1.35" ry="1.65" fill="#2a2a2a"/>
<ellipse cx="305.20" cy="210.00" rx="1.35" ry="1.65" fill="#2a2a2a"/>
<ellipse cx="305.20" cy="212.00" rx="1.35" ry="1.65" fill="#2a2a2a"/>
<ellipse cx="305.20" cy="214.00" rx="1.35" ry="1.65" fill="#2a2a2a"/>
<ellipse cx="305.20" cy="215.90" rx="1.35" ry="1.65" fill="#2a2a2a"/>
<ellipse cx="305.20" cy="221.30" rx="1.35" ry="1.65" fill="#2a2a2a"/>
<ellipse cx="305.20" cy="346.50" rx="1.35" ry="1.65" fill="#2a2a2a"/>
<ellipse cx="305.20" cy="348.50" rx="1.35" ry="1.65" fill="#2a2a2a"/>
<polygon points="313.7,269.6 315.59,269.6 315.15,208.7 314.15,208.7" fill="#484848" stroke="none" stroke-width="1" fill-opacity="0.9"/>
<polygon points="313.7,343 315.59,343 315.1,346.5 314.2,346.5" fill="#484848" stroke="none" stroke-width="1" fill-opacity="0.9"/>
<rect x="313.7" y="269.6" width="1.89" height="73.4" fill="#f1aa95" stroke="#505050" stroke-width="0.5"/>
<rect x="312.76" y="282" width="3.78" height="57.8" fill="#ef9e86" stroke="#505050" stroke-width="0.5"/>
<rect x="310.87" y="296.8" width="7.56" height="23.3" fill="#ed9378" stroke="#505050" stroke-width="0.6"/>
<ellipse cx="314.65" cy="200.90" rx="1.35" ry="1.65" fill="#2a2a2a"/>
<ellipse cx="314.65" cy="202.60" rx="1.35" ry="1.65" fill="#2a2a2a"/>
<ellipse cx="314.65" cy="204.30" rx="1.35" ry="1.65" fill="#2a2a2a"/>
<ellipse cx="314.65" cy="206.00" rx="1.35" ry="1.65" fill="#2a2a2a"/>
<ellipse cx="314.65" cy="207.70" rx="1.35" ry="1.65" fill="#2a2a2a"/>
<ellipse cx="314.65" cy="348.50" rx="1.35" ry="1.65" fill="#2a2a2a"/>
<polygon points="323.15,287.4 325.04,287.4 324.6,281 323.6,281" fill="#484848" stroke="none" stroke-width="1" fill-opacity="0.9"/>
<polygon points="323.15,320 325.04,320 324.55,336 323.65,336" fill="#484848" stroke="none" stroke-width="1" fill-opacity="0.9"/>
<rect x="323.15" y="287.4" width="1.89" height="32.6" fill="#dfb282" stroke="#505050" stroke-width="0.5"/>
<rect x="322.21" y="295.1" width="3.78" height="21.4" fill="#daa771" stroke="#505050" stroke-width="0.5"/>
<rect x="320.32" y="300.4" width="7.56" height="11.4" fill="#d69d60" stroke="#505050" stroke-width="0.6"/>
<ellipse cx="324.10" cy="234.70" rx="1.35" ry="1.65" fill="#2a2a2a"/>
<ellipse cx="324.10" cy="240.90" rx="1.35" ry="1.65" fill="#2a2a2a"/>
<ellipse cx="324.10" cy="279.50" rx="1.35" ry="1.65" fill="#2a2a2a"/>
<ellipse cx="324.10" cy="281.50" rx="1.35" ry="1.65" fill="#2a2a2a"/>
<ellipse cx="324.10" cy="283.50" rx="1.35" ry="1.65" fill="#2a2a2a"/>
<ellipse cx="324.10" cy="285.50" rx="1.35" ry="1.65" fill="#2a2a2a"/>
<ellipse cx="324.10" cy="338.00" rx="1.35" ry="1.65" fill="#2a2a2a"/>
<ellipse cx="324.10" cy="340.00" rx="1.35" ry="1.65" fill="#2a2a2a"/>
<ellipse cx="324.10" cy="342.00" rx="1.35" ry="1.65" fill="#2a2a2a"/>
<ellipse cx="324.10" cy="344.00" rx="1.35" ry="1.65" fill="#2a2a2a"/>
<ellipse cx="324.10" cy="346.00" rx="1.35" ry="1.65" fill="#2a2a2a"/>
<ellipse cx="324.10" cy="348.00" rx="1.35" ry="1.65" fill="#2a2a2a"/>
<polygon points="332.61,278.5 334.5,278.5 334.05,210.5 333.05,210.5" fill="#484848" stroke="none" stroke-width="1" fill-opacity="0.9"/>
<polygon points="332.61,323 334.5,323 334,346 333.1,346" fill="#484848" stroke="none" stroke-width="1" fill-opacity="0.9"/>
<rect x="332.61" y="278.5" width="1.89" height="44.5" fill="#d0b680" stroke="#505050" stroke-width="0.5"/>
<rect x="331.66" y="286.6" width="3.78" height="32.2" fill="#c9ad6f" stroke="#505050" stroke-width="0.5"/>
<rect x="329.77" y="296.5" width="7.56" height="14.5" fill="#c3a35e" stroke="#505050" stroke-width="0.6"/>
<ellipse cx="333.55" cy="205.20" rx="1.35" ry="1.65" fill="#2a2a2a"/>
<ellipse cx="333.55" cy="207.00" rx="1.35" ry="1.65" fill="#2a2a2a"/>
<ellipse cx="333.55" cy="208.80" rx="1.35" ry="1.65" fill="#2a2a2a"/>
<ellipse cx="333.55" cy="347.50" rx="1.35" ry="1.65" fill="#2a2a2a"/>
<polygon points="342.15,226 343.85,226 343.5,202.5 342.5,202.5" fill="#484848" stroke="none" stroke-width="1" fill-opacity="0.9"/>
<polygon points="342.15,323.5 343.85,323.5 343.45,347 342.55,347" fill="#484848" stroke="none" stroke-width="1" fill-opacity="0.9"/>
<rect x="342.53" y="226" width="0.94" height="97.5" fill="#cbc391" stroke="#505050" stroke-width="0.5"/>
<rect x="342.06" y="271" width="1.89" height="52.5" fill="#c3ba80" stroke="#505050" stroke-width="0.5"/>
<rect x="341.11" y="279.8" width="3.78" height="39.2" fill="#bbb06e" stroke="#505050" stroke-width="0.5"/>
<rect x="339.22" y="293.3" width="7.56" height="20.2" fill="#b3a75d" stroke="#505050" stroke-width="0.6"/>
<line x1="339.22" y1="306.7" x2="346.78" y2="306.7" stroke="#262626" stroke-width="0.7" stroke-opacity="0.35"/>
<ellipse cx="343.00" cy="201.80" rx="1.35" ry="1.65" fill="#2a2a2a"/>
<ellipse cx="343.00" cy="348.30" rx="1.35" ry="1.65" fill="#2a2a2a"/>
<polygon points="351.6,226 353.3,226 352.95,202.5 351.95,202.5" fill="#484848" stroke="none" stroke-width="1" fill-opacity="0.9"/>
<polygon points="351.6,322.6 353.3,322.6 352.9,347 352,347" fill="#484848" stroke="none" stroke-width="1" fill-opacity="0.9"/>
<rect x="351.98" y="226" width="0.94" height="96.6" fill="#c0c690" stroke="#505050" stroke-width="0.5"/>
<rect x="351.5" y="262" width="1.89" height="60.6" fill="#b6bd7f" stroke="#505050" stroke-width="0.5"/>
<rect x="350.56" y="279" width="3.78" height="39.1" fill="#adb46d" stroke="#505050" stroke-width="0.5"/>
<rect x="348.67" y="291.6" width="7.56" height="21" fill="#a3ab5c" stroke="#505050" stroke-width="0.6"/>
<line x1="348.67" y1="305" x2="356.23" y2="305" stroke="#262626" stroke-width="0.7" stroke-opacity="0.35"/>
<ellipse cx="352.45" cy="201.80" rx="1.35" ry="1.65" fill="#2a2a2a"/>
<ellipse cx="352.45" cy="348.30" rx="1.35" ry="1.65" fill="#2a2a2a"/>
<polygon points="361.05,226 362.75,226 362.4,202.5 361.4,202.5" fill="#484848" stroke="none" stroke-width="1" fill-opacity="0.9"/>
<polygon points="361.05,322.6 362.75,322.6 362.35,347 361.45,347" fill="#484848" stroke="none" stroke-width="1" fill-opacity="0.9"/>
<rect x="361.43" y="226" width="0.94" height="96.6" fill="#b1ca90" stroke="#505050" stroke-width="0.5"/>
<rect x="360.95" y="260.6" width="1.89" height="62" fill="#a5c27f" stroke="#505050" stroke-width="0.5"/>
<rect x="360.01" y="280" width="3.78" height="38.1" fill="#99b96d" stroke="#505050" stroke-width="0.5"/>
<rect x="358.12" y="291" width="7.56" height="21.6" fill="#8db15c" stroke="#505050" stroke-width="0.6"/>
<line x1="358.12" y1="303.7" x2="365.68" y2="303.7" stroke="#262626" stroke-width="0.7" stroke-opacity="0.35"/>
<ellipse cx="361.90" cy="201.80" rx="1.35" ry="1.65" fill="#2a2a2a"/>
<ellipse cx="361.90" cy="348.30" rx="1.35" ry="1.65" fill="#2a2a2a"/>
<polygon points="370.5,226 372.2,226 371.85,202.5 370.85,202.5" fill="#484848" stroke="none" stroke-width="1" fill-opacity="0.9"/>
<polygon points="370.5,321.5 372.2,321.5 371.8,347 370.9,347" fill="#484848" stroke="none" stroke-width="1" fill-opacity="0.9"/>
<rect x="370.88" y="226" width="0.94" height="95.5" fill="#91ce97" stroke="#505050" stroke-width="0.5"/>
<rect x="370.4" y="248.3" width="1.89" height="73.2" fill="#80c686" stroke="#505050" stroke-width="0.5"/>
<rect x="369.46" y="279" width="3.78" height="38" fill="#6ebf76" stroke="#505050" stroke-width="0.5"/>
<rect x="367.57" y="291.5" width="7.56" height="20" fill="#5db766" stroke="#505050" stroke-width="0.6"/>
<line x1="367.57" y1="302.7" x2="375.13" y2="302.7" stroke="#262626" stroke-width="0.7" stroke-opacity="0.35"/>
<ellipse cx="371.35" cy="201.80" rx="1.35" ry="1.65" fill="#2a2a2a"/>
<ellipse cx="371.35" cy="348.30" rx="1.35" ry="1.65" fill="#2a2a2a"/>
<polygon points="379.95,226 381.65,226 381.3,202.5 380.3,202.5" fill="#484848" stroke="none" stroke-width="1" fill-opacity="0.9"/>
<polygon points="379.95,320.9 381.65,320.9 381.25,347 380.35,347" fill="#484848" stroke="none" stroke-width="1" fill-opacity="0.9"/>
<rect x="380.33" y="226" width="0.94" height="94.9" fill="#91cdb3" stroke="#505050" stroke-width="0.5"/>
<rect x="379.85" y="243.4" width="1.89" height="77.5" fill="#80c5a8" stroke="#505050" stroke-width="0.5"/>
<rect x="378.91" y="277.8" width="3.78" height="38.6" fill="#6fbd9c" stroke="#505050" stroke-width="0.5"/>
<rect x="377.02" y="291" width="7.56" height="19.9" fill="#5eb590" stroke="#505050" stroke-width="0.6"/>
<line x1="377.02" y1="302" x2="384.58" y2="302" stroke="#262626" stroke-width="0.7" stroke-opacity="0.35"/>
<ellipse cx="380.80" cy="201.80" rx="1.35" ry="1.65" fill="#2a2a2a"/>
<ellipse cx="380.80" cy="348.30" rx="1.35" ry="1.65" fill="#2a2a2a"/>
<polygon points="389.4,226 391.1,226 390.75,202.5 389.75,202.5" fill="#484848" stroke="none" stroke-width="1" fill-opacity="0.9"/>
<polygon points="389.4,320.5 391.1,320.5 390.7,347 389.8,347" fill="#484848" stroke="none" stroke-width="1" fill-opacity="0.9"/>
<rect x="389.78" y="226" width="0.94" height="94.5" fill="#92ccbf" stroke="#505050" stroke-width="0.5"/>
<rect x="389.31" y="245.2" width="1.89" height="75.3" fill="#81c4b5" stroke="#505050" stroke-width="0.5"/>
<rect x="388.36" y="275.9" width="3.78" height="40.1" fill="#70bcab" stroke="#505050" stroke-width="0.5"/>
<rect x="386.47" y="288.8" width="7.56" height="21.7" fill="#5fb4a1" stroke="#505050" stroke-width="0.6"/>
<line x1="386.47" y1="301.5" x2="394.03" y2="301.5" stroke="#262626" stroke-width="0.7" stroke-opacity="0.35"/>
<ellipse cx="390.25" cy="201.80" rx="1.35" ry="1.65" fill="#2a2a2a"/>
<ellipse cx="390.25" cy="348.30" rx="1.35" ry="1.65" fill="#2a2a2a"/>
<polygon points="398.85,226 400.55,226 400.2,202.5 399.2,202.5" fill="#484848" stroke="none" stroke-width="1" fill-opacity="0.9"/>
<polygon points="398.85,320.5 400.55,320.5 400.15,347 399.25,347" fill="#484848" stroke="none" stroke-width="1" fill-opacity="0.9"/>
<rect x="399.23" y="226" width="0.94" height="94.5" fill="#93cbc7" stroke="#505050" stroke-width="0.5"/>
<rect x="398.75" y="245.2" width="1.89" height="75.3" fill="#82c3be" stroke="#505050" stroke-width="0.5"/>
<rect x="397.81" y="275.3" width="3.78" height="40.7" fill="#71bbb6" stroke="#505050" stroke-width="0.5"/>
<rect x="395.92" y="288.2" width="7.56" height="22.3" fill="#60b3ad" stroke="#505050" stroke-width="0.6"/>
<line x1="395.92" y1="300.6" x2="403.48" y2="300.6" stroke="#262626" stroke-width="0.7" stroke-opacity="0.35"/>
<ellipse cx="399.70" cy="201.80" rx="1.35" ry="1.65" fill="#2a2a2a"/>
<ellipse cx="399.70" cy="348.30" rx="1.35" ry="1.65" fill="#2a2a2a"/>
<polygon points="408.3,226 410,226 409.65,202.5 408.65,202.5" fill="#484848" stroke="none" stroke-width="1" fill-opacity="0.9"/>
<polygon points="408.3,320.9 410,320.9 409.6,347 408.7,347" fill="#484848" stroke="none" stroke-width="1" fill-opacity="0.9"/>
<rect x="408.68" y="226" width="0.94" height="94.9" fill="#93cace" stroke="#505050" stroke-width="0.5"/>
<rect x="408.2" y="260.6" width="1.89" height="60.3" fill="#82c2c7" stroke="#505050" stroke-width="0.5"/>
<rect x="407.26" y="271.6" width="3.78" height="44.8" fill="#72bac0" stroke="#505050" stroke-width="0.5"/>
<rect x="405.37" y="283" width="7.56" height="27.9" fill="#61b2b8" stroke="#505050" stroke-width="0.6"/>
<line x1="405.37" y1="301.1" x2="412.93" y2="301.1" stroke="#262626" stroke-width="0.7" stroke-opacity="0.35"/>
<ellipse cx="409.15" cy="201.80" rx="1.35" ry="1.65" fill="#2a2a2a"/>
<ellipse cx="409.15" cy="348.30" rx="1.35" ry="1.65" fill="#2a2a2a"/>
<polygon points="417.75,226 419.45,226 419.1,202.5 418.1,202.5" fill="#484848" stroke="none" stroke-width="1" fill-opacity="0.9"/>
<polygon points="417.75,320.5 419.45,320.5 419.05,347 418.15,347" fill="#484848" stroke="none" stroke-width="1" fill-opacity="0.9"/>
<rect x="418.13" y="226" width="0.94" height="94.5" fill="#95cad7" stroke="#505050" stroke-width="0.5"/>
<rect x="417.65" y="258.7" width="1.89" height="61.8" fill="#84c2d1" stroke="#505050" stroke-width="0.5"/>
<rect x="416.71" y="270.8" width="3.78" height="45.2" fill="#74bacb" stroke="#505050" stroke-width="0.5"/>
<rect x="414.82" y="282.5" width="7.56" height="28" fill="#63b2c5" stroke="#505050" stroke-width="0.6"/>
<line x1="414.82" y1="300.4" x2="422.38" y2="300.4" stroke="#262626" stroke-width="0.7" stroke-opacity="0.35"/>
<ellipse cx="418.60" cy="201.80" rx="1.35" ry="1.65" fill="#2a2a2a"/>
<ellipse cx="418.60" cy="348.30" rx="1.35" ry="1.65" fill="#2a2a2a"/>
<polygon points="427.2,226 428.9,226 428.55,202.5 427.55,202.5" fill="#484848" stroke="none" stroke-width="1" fill-opacity="0.9"/>
<polygon points="427.2,320 428.9,320 428.5,347 427.6,347" fill="#484848" stroke="none" stroke-width="1" fill-opacity="0.9"/>
<rect x="427.58" y="226" width="0.94" height="94" fill="#97cae5" stroke="#505050" stroke-width="0.5"/>
<rect x="427.1" y="258.5" width="1.89" height="61.5" fill="#87c2e1" stroke="#505050" stroke-width="0.5"/>
<rect x="426.16" y="270.9" width="3.78" height="44.6" fill="#77b9dd" stroke="#505050" stroke-width="0.5"/>
<rect x="424.27" y="281.2" width="7.56" height="28.8" fill="#67b1d9" stroke="#505050" stroke-width="0.6"/>
<line x1="424.27" y1="299.2" x2="431.83" y2="299.2" stroke="#262626" stroke-width="0.7" stroke-opacity="0.35"/>
<ellipse cx="428.05" cy="201.80" rx="1.35" ry="1.65" fill="#2a2a2a"/>
<ellipse cx="428.05" cy="348.30" rx="1.35" ry="1.65" fill="#2a2a2a"/>
<polygon points="436.65,226 438.35,226 438,202.5 437,202.5" fill="#484848" stroke="none" stroke-width="1" fill-opacity="0.9"/>
<polygon points="436.65,320 438.35,320 437.95,347 437.05,347" fill="#484848" stroke="none" stroke-width="1" fill-opacity="0.9"/>
<rect x="437.03" y="226" width="0.94" height="94" fill="#b3c8f3" stroke="#505050" stroke-width="0.5"/>
<rect x="436.56" y="258.5" width="1.89" height="61.5" fill="#a8c0f1" stroke="#505050" stroke-width="0.5"/>
<rect x="435.61" y="269.6" width="3.78" height="45.9" fill="#9cb8ef" stroke="#505050" stroke-width="0.5"/>
<rect x="433.72" y="280.8" width="7.56" height="29.2" fill="#90afed" stroke="#505050" stroke-width="0.6"/>
<line x1="433.72" y1="298.5" x2="441.28" y2="298.5" stroke="#262626" stroke-width="0.7" stroke-opacity="0.35"/>
<ellipse cx="437.50" cy="201.80" rx="1.35" ry="1.65" fill="#2a2a2a"/>
<ellipse cx="437.50" cy="348.30" rx="1.35" ry="1.65" fill="#2a2a2a"/>
<polygon points="446.1,226 447.8,226 447.45,202.5 446.45,202.5" fill="#484848" stroke="none" stroke-width="1" fill-opacity="0.9"/>
<polygon points="446.1,319.1 447.8,319.1 447.4,347 446.5,347" fill="#484848" stroke="none" stroke-width="1" fill-opacity="0.9"/>
<rect x="446.48" y="226" width="0.94" height="93.1" fill="#cec3f4" stroke="#505050" stroke-width="0.5"/>
<rect x="446" y="259.7" width="1.89" height="59.4" fill="#c6baf2" stroke="#505050" stroke-width="0.5"/>
<rect x="445.06" y="269" width="3.78" height="45.6" fill="#bfb0f1" stroke="#505050" stroke-width="0.5"/>
<rect x="443.17" y="281" width="7.56" height="28.1" fill="#b7a7ef" stroke="#505050" stroke-width="0.6"/>
<line x1="443.17" y1="298.5" x2="450.73" y2="298.5" stroke="#262626" stroke-width="0.7" stroke-opacity="0.35"/>
<ellipse cx="446.95" cy="201.80" rx="1.35" ry="1.65" fill="#2a2a2a"/>
<ellipse cx="446.95" cy="348.30" rx="1.35" ry="1.65" fill="#2a2a2a"/>
<polygon points="455.55,226 457.25,226 456.9,202.5 455.9,202.5" fill="#484848" stroke="none" stroke-width="1" fill-opacity="0.9"/>
<polygon points="455.55,320 457.25,320 456.85,347 455.95,347" fill="#484848" stroke="none" stroke-width="1" fill-opacity="0.9"/>
<rect x="455.93" y="226" width="0.94" height="94" fill="#e0baf3" stroke="#505050" stroke-width="0.5"/>
<rect x="455.45" y="252" width="1.89" height="68" fill="#dcaff2" stroke="#505050" stroke-width="0.5"/>
<rect x="454.51" y="269" width="3.78" height="46.5" fill="#d7a4f0" stroke="#505050" stroke-width="0.5"/>
<rect x="452.62" y="281.5" width="7.56" height="28.5" fill="#d299ee" stroke="#505050" stroke-width="0.6"/>
<line x1="452.62" y1="298.5" x2="460.18" y2="298.5" stroke="#262626" stroke-width="0.7" stroke-opacity="0.35"/>
<ellipse cx="456.40" cy="201.80" rx="1.35" ry="1.65" fill="#2a2a2a"/>
<ellipse cx="456.40" cy="348.30" rx="1.35" ry="1.65" fill="#2a2a2a"/>
<polygon points="465,226 466.7,226 466.35,202.5 465.35,202.5" fill="#484848" stroke="none" stroke-width="1" fill-opacity="0.9"/>
<polygon points="465,318.2 466.7,318.2 466.3,347 465.4,347" fill="#484848" stroke="none" stroke-width="1" fill-opacity="0.9"/>
<rect x="465.38" y="226" width="0.94" height="92.2" fill="#f2aaf1" stroke="#505050" stroke-width="0.5"/>
<rect x="464.9" y="253" width="1.89" height="65.2" fill="#f09cee" stroke="#505050" stroke-width="0.5"/>
<rect x="463.96" y="269" width="3.78" height="44.7" fill="#ee8fec" stroke="#505050" stroke-width="0.5"/>
<rect x="462.07" y="281.5" width="7.56" height="26.7" fill="#ec82ea" stroke="#505050" stroke-width="0.6"/>
<line x1="462.07" y1="298" x2="469.63" y2="298" stroke="#262626" stroke-width="0.7" stroke-opacity="0.35"/>
<ellipse cx="465.85" cy="201.80" rx="1.35" ry="1.65" fill="#2a2a2a"/>
<ellipse cx="465.85" cy="348.30" rx="1.35" ry="1.65" fill="#2a2a2a"/>
<polygon points="474.45,226 476.15,226 475.8,202.5 474.8,202.5" fill="#484848" stroke="none" stroke-width="1" fill-opacity="0.9"/>
<polygon points="474.45,318.8 476.15,318.8 475.75,347 474.85,347" fill="#484848" stroke="none" stroke-width="1" fill-opacity="0.9"/>
<rect x="474.83" y="226" width="0.94" height="92.8" fill="#f3aee0" stroke="#505050" stroke-width="0.5"/>
<rect x="474.35" y="253" width="1.89" height="65.8" fill="#f1a2db" stroke="#505050" stroke-width="0.5"/>
<rect x="473.41" y="269" width="3.78" height="45.3" fill="#ef96d6" stroke="#505050" stroke-width="0.5"/>
<rect x="471.52" y="281.5" width="7.56" height="27.3" fill="#ed89d1" stroke="#505050" stroke-width="0.6"/>
<line x1="471.52" y1="297.6" x2="479.08" y2="297.6" stroke="#262626" stroke-width="0.7" stroke-opacity="0.35"/>
<ellipse cx="475.30" cy="201.80" rx="1.35" ry="1.65" fill="#2a2a2a"/>
<ellipse cx="475.30" cy="348.30" rx="1.35" ry="1.65" fill="#2a2a2a"/>
<polygon points="483.9,226 485.6,226 485.25,202.5 484.25,202.5" fill="#484848" stroke="none" stroke-width="1" fill-opacity="0.9"/>
<polygon points="483.9,317.4 485.6,317.4 485.2,347 484.3,347" fill="#484848" stroke="none" stroke-width="1" fill-opacity="0.9"/>
<rect x="484.28" y="226" width="0.94" height="91.4" fill="#f3b2d1" stroke="#505050" stroke-width="0.5"/>
<rect x="483.81" y="255" width="1.89" height="62.4" fill="#f2a6ca" stroke="#505050" stroke-width="0.5"/>
<rect x="482.86" y="267.6" width="3.78" height="45.3" fill="#f09ac2" stroke="#505050" stroke-width="0.5"/>
<rect x="480.97" y="280.5" width="7.56" height="26.9" fill="#ee8ebb" stroke="#505050" stroke-width="0.6"/>
<line x1="480.97" y1="297.6" x2="488.53" y2="297.6" stroke="#262626" stroke-width="0.7" stroke-opacity="0.35"/>
<ellipse cx="484.75" cy="201.80" rx="1.35" ry="1.65" fill="#2a2a2a"/>
<ellipse cx="484.75" cy="348.30" rx="1.35" ry="1.65" fill="#2a2a2a"/>
<polyline points="305.2,310 314.65,307.7 324.1,306.5 333.55,303 343,301.2 352.45,299.5 361.9,298.2 371.35,297.2 380.8,296.5 390.25,296 399.7,295.1 409.15,295.6 418.6,294.9 428.05,293.7 437.5,293 446.95,293 456.4,293 465.85,292.5 475.3,292.1 484.75,292.1" fill="none" stroke="#ffffff" stroke-width="0.8" stroke-opacity="0.85"/>
<circle cx="305.2" cy="310" r="1.4" fill="#ffffff" stroke="none" stroke-width="0.5"/>
<circle cx="314.65" cy="307.7" r="1.4" fill="#ffffff" stroke="none" stroke-width="0.5"/>
<circle cx="324.1" cy="306.5" r="1.4" fill="#ffffff" stroke="none" stroke-width="0.5"/>
<circle cx="333.55" cy="303" r="1.4" fill="#ffffff" stroke="none" stroke-width="0.5"/>
<circle cx="343" cy="301.2" r="1.4" fill="#ffffff" stroke="none" stroke-width="0.5"/>
<circle cx="352.45" cy="299.5" r="1.4" fill="#ffffff" stroke="none" stroke-width="0.5"/>
<circle cx="361.9" cy="298.2" r="1.4" fill="#ffffff" stroke="none" stroke-width="0.5"/>
<circle cx="371.35" cy="297.2" r="1.4" fill="#ffffff" stroke="none" stroke-width="0.5"/>
<circle cx="380.8" cy="296.5" r="1.4" fill="#ffffff" stroke="none" stroke-width="0.5"/>
<circle cx="390.25" cy="296" r="1.4" fill="#ffffff" stroke="none" stroke-width="0.5"/>
<circle cx="399.7" cy="295.1" r="1.4" fill="#ffffff" stroke="none" stroke-width="0.5"/>
<circle cx="409.15" cy="295.6" r="1.4" fill="#ffffff" stroke="none" stroke-width="0.5"/>
<circle cx="418.6" cy="294.9" r="1.4" fill="#ffffff" stroke="none" stroke-width="0.5"/>
<circle cx="428.05" cy="293.7" r="1.4" fill="#ffffff" stroke="none" stroke-width="0.5"/>
<circle cx="437.5" cy="293" r="1.4" fill="#ffffff" stroke="none" stroke-width="0.5"/>
<circle cx="446.95" cy="293" r="1.4" fill="#ffffff" stroke="none" stroke-width="0.5"/>
<circle cx="456.4" cy="293" r="1.4" fill="#ffffff" stroke="none" stroke-width="0.5"/>
<circle cx="465.85" cy="292.5" r="1.4" fill="#ffffff" stroke="none" stroke-width="0.5"/>
<circle cx="475.3" cy="292.1" r="1.4" fill="#ffffff" stroke="none" stroke-width="0.5"/>
<circle cx="484.75" cy="292.1" r="1.4" fill="#ffffff" stroke="none" stroke-width="0.5"/>
<polygon points="39.5,421.56 49.83,452.76 60.16,505.02 70.49,504.24 80.82,504.24 91.15,508.45 101.48,521.4 111.81,522.34 122.14,524.05 132.47,528.42 142.8,533.88 153.13,537 163.46,535.44 173.79,537 184.12,535.44 194.45,535.44 204.78,535.44 215.11,537 225.44,535.44 235.77,538.56 235.77,544.8 225.44,544.8 215.11,544.8 204.78,544.8 194.45,544.8 184.12,544.8 173.79,544.8 163.46,544.8 153.13,544.8 142.8,544.8 132.47,544.8 122.14,544.8 111.81,544.8 101.48,544.02 91.15,537 80.82,531.85 70.49,532.32 60.16,544.8 49.83,510.48 39.5,494.88" fill="#1f77b4" stroke="none" stroke-width="1" fill-opacity="0.22"/>
<polygon points="39.5,505.18 49.83,495.04 60.16,470.08 70.49,482.4 80.82,484.43 91.15,488.33 101.48,481 111.81,486.14 122.14,486.46 132.47,487.55 142.8,487.39 153.13,485.05 163.46,484.74 173.79,482.4 184.12,481.62 194.45,485.05 204.78,491.6 215.11,492.23 225.44,492.23 235.77,491.6 235.77,502.52 225.44,503.15 215.11,503.15 204.78,502.52 194.45,499.09 184.12,495.66 173.79,496.44 163.46,498.78 153.13,499.09 142.8,501.43 132.47,501.59 122.14,506.74 111.81,506.42 101.48,501.28 91.15,508.61 80.82,504.71 70.49,502.68 60.16,487.24 49.83,524.68 39.5,534.82" fill="#ff7f0e" stroke="none" stroke-width="1" fill-opacity="0.22"/>
<polygon points="39.5,501.12 49.83,496.44 60.16,468.36 70.49,480.84 80.82,483.96 91.15,488.64 101.48,480.84 111.81,487.08 122.14,489.42 132.47,490.98 142.8,488.64 153.13,487.7 163.46,489.89 173.79,486.46 184.12,488.64 194.45,490.2 204.78,495.97 215.11,495.19 225.44,495.19 235.77,494.26 235.77,502.06 225.44,502.99 215.11,502.99 204.78,503.77 194.45,499.56 184.12,498 173.79,495.82 163.46,499.25 153.13,497.06 142.8,498 132.47,500.34 122.14,499.56 111.81,499.56 101.48,496.44 91.15,503.46 80.82,500.34 70.49,499.56 60.16,487.08 49.83,521.4 39.5,535.44" fill="#2ca02c" stroke="none" stroke-width="1" fill-opacity="0.22"/>
<polygon points="39.5,513.6 49.83,510.48 60.16,535.44 70.49,510.48 80.82,502.68 91.15,502.68 101.48,500.81 111.81,498 122.14,497.38 132.47,496.44 142.8,496.44 153.13,494.88 163.46,494.88 173.79,494.88 184.12,491.76 194.45,482.4 204.78,480.06 215.11,477.72 225.44,479.28 235.77,479.28 235.77,496.44 225.44,496.44 215.11,494.88 204.78,498 194.45,509.7 184.12,515.16 173.79,512.04 163.46,508.92 153.13,508.92 142.8,510.48 132.47,512.04 122.14,514.69 111.81,518.28 101.48,520.78 91.15,527.64 80.82,533.88 70.49,541.68 60.16,544.8 49.83,541.68 39.5,544.8" fill="#d62728" stroke="none" stroke-width="1" fill-opacity="0.22"/>
<polygon points="39.5,540.59 49.83,540.59 60.16,540.59 70.49,540.43 80.82,540.43 91.15,540.28 101.48,540.28 111.81,540.12 122.14,539.96 132.47,539.81 142.8,539.65 153.13,539.34 163.46,539.03 173.79,538.72 184.12,538.4 194.45,538.4 204.78,538.25 215.11,538.09 225.44,538.09 235.77,537.94 235.77,544.18 225.44,544.33 215.11,544.33 204.78,544.49 194.45,544.64 184.12,544.64 173.79,544.8 163.46,544.8 153.13,544.8 142.8,544.8 132.47,544.8 122.14,544.8 111.81,544.8 101.48,544.8 91.15,544.8 80.82,544.8 70.49,544.8 60.16,544.8 49.83,544.8 39.5,544.8" fill="#9467bd" stroke="none" stroke-width="1" fill-opacity="0.22"/>
<polyline points="39.5,455.26 49.83,480.68 60.16,525.77 70.49,517.97 80.82,518.28 91.15,517.66 101.48,534.04 111.81,530.14 122.14,533.1 132.47,532.94 142.8,538.72 153.13,542.46 163.46,540.43 173.79,542.93 184.12,541.37 194.45,541.37 204.78,540.74 215.11,542.46 225.44,540.74 235.77,543.55" fill="none" stroke="#1d62a0" stroke-width="1"/>
<circle cx="39.5" cy="455.26" r="1.5" fill="#1d62a0" stroke="none" stroke-width="0.5"/>
<circle cx="49.83" cy="480.68" r="1.5" fill="#1d62a0" stroke="none" stroke-width="0.5"/>
<circle cx="60.16" cy="525.77" r="1.5" fill="#1d62a0" stroke="none" stroke-width="0.5"/>
<circle cx="70.49" cy="517.97" r="1.5" fill="#1d62a0" stroke="none" stroke-width="0.5"/>
<circle cx="80.82" cy="518.28" r="1.5" fill="#1d62a0" stroke="none" stroke-width="0.5"/>
<circle cx="91.15" cy="517.66" r="1.5" fill="#1d62a0" stroke="none" stroke-width="0.5"/>
<circle cx="101.48" cy="534.04" r="1.5" fill="#1d62a0" stroke="none" stroke-width="0.5"/>
<circle cx="111.81" cy="530.14" r="1.5" fill="#1d62a0" stroke="none" stroke-width="0.5"/>
<circle cx="122.14" cy="533.1" r="1.5" fill="#1d62a0" stroke="none" stroke-width="0.5"/>
<circle cx="132.47" cy="532.94" r="1.5" fill="#1d62a0" stroke="none" stroke-width="0.5"/>
<circle cx="142.8" cy="538.72" r="1.5" fill="#1d62a0" stroke="none" stroke-width="0.5"/>
<circle cx="153.13" cy="542.46" r="1.5" fill="#1d62a0" stroke="none" stroke-width="0.5"/>
<circle cx="163.46" cy="540.43" r="1.5" fill="#1d62a0" stroke="none" stroke-width="0.5"/>
<circle cx="173.79" cy="542.93" r="1.5" fill="#1d62a0" stroke="none" stroke-width="0.5"/>
<circle cx="184.12" cy="541.37" r="1.5" fill="#1d62a0" stroke="none" stroke-width="0.5"/>
<circle cx="194.45" cy="541.37" r="1.5" fill="#1d62a0" stroke="none" stroke-width="0.5"/>
<circle cx="204.78" cy="540.74" r="1.5" fill="#1d62a0" stroke="none" stroke-width="0.5"/>
<circle cx="215.11" cy="542.46" r="1.5" fill="#1d62a0" stroke="none" stroke-width="0.5"/>
<circle cx="225.44" cy="540.74" r="1.5" fill="#1d62a0" stroke="none" stroke-width="0.5"/>
<circle cx="235.77" cy="543.55" r="1.5" fill="#1d62a0" stroke="none" stroke-width="0.5"/>
<polyline points="39.5,519.22 49.83,509.08 60.16,477.88 70.49,490.2 80.82,492.23 91.15,496.13 101.48,488.8 111.81,493.94 122.14,494.26 132.47,493.79 142.8,493.63 153.13,491.29 163.46,490.98 173.79,488.64 184.12,487.86 194.45,491.29 204.78,497.06 215.11,497.69 225.44,497.69 235.77,497.06" fill="none" stroke="#e0741a" stroke-width="1"/>
<circle cx="39.5" cy="519.22" r="1.3" fill="#e0741a" stroke="none" stroke-width="0.5"/>
<circle cx="49.83" cy="509.08" r="1.3" fill="#e0741a" stroke="none" stroke-width="0.5"/>
<circle cx="60.16" cy="477.88" r="1.3" fill="#e0741a" stroke="none" stroke-width="0.5"/>
<circle cx="70.49" cy="490.2" r="1.3" fill="#e0741a" stroke="none" stroke-width="0.5"/>
<circle cx="80.82" cy="492.23" r="1.3" fill="#e0741a" stroke="none" stroke-width="0.5"/>
<circle cx="91.15" cy="496.13" r="1.3" fill="#e0741a" stroke="none" stroke-width="0.5"/>
<circle cx="101.48" cy="488.8" r="1.3" fill="#e0741a" stroke="none" stroke-width="0.5"/>
<circle cx="111.81" cy="493.94" r="1.3" fill="#e0741a" stroke="none" stroke-width="0.5"/>
<circle cx="122.14" cy="494.26" r="1.3" fill="#e0741a" stroke="none" stroke-width="0.5"/>
<circle cx="132.47" cy="493.79" r="1.3" fill="#e0741a" stroke="none" stroke-width="0.5"/>
<circle cx="142.8" cy="493.63" r="1.3" fill="#e0741a" stroke="none" stroke-width="0.5"/>
<circle cx="153.13" cy="491.29" r="1.3" fill="#e0741a" stroke="none" stroke-width="0.5"/>
<circle cx="163.46" cy="490.98" r="1.3" fill="#e0741a" stroke="none" stroke-width="0.5"/>
<circle cx="173.79" cy="488.64" r="1.3" fill="#e0741a" stroke="none" stroke-width="0.5"/>
<circle cx="184.12" cy="487.86" r="1.3" fill="#e0741a" stroke="none" stroke-width="0.5"/>
<circle cx="194.45" cy="491.29" r="1.3" fill="#e0741a" stroke="none" stroke-width="0.5"/>
<circle cx="204.78" cy="497.06" r="1.3" fill="#e0741a" stroke="none" stroke-width="0.5"/>
<circle cx="215.11" cy="497.69" r="1.3" fill="#e0741a" stroke="none" stroke-width="0.5"/>
<circle cx="225.44" cy="497.69" r="1.3" fill="#e0741a" stroke="none" stroke-width="0.5"/>
<circle cx="235.77" cy="497.06" r="1.3" fill="#e0741a" stroke="none" stroke-width="0.5"/>
<polyline points="39.5,519.22 49.83,509.08 60.16,477.88 70.49,490.2 80.82,492.23 91.15,496.13 101.48,488.8 111.81,493.94 122.14,494.57 132.47,495.66 142.8,493.32 153.13,492.38 163.46,494.57 173.79,491.14 184.12,493.32 194.45,494.88 204.78,499.87 215.11,499.09 225.44,499.09 235.77,498.16" fill="none" stroke="#258a25" stroke-width="1"/>
<rect x="37.9" y="517.62" width="3.2" height="3.2" fill="#258a25" stroke="none" stroke-width="1"/>
<rect x="48.23" y="507.48" width="3.2" height="3.2" fill="#258a25" stroke="none" stroke-width="1"/>
<rect x="58.56" y="476.28" width="3.2" height="3.2" fill="#258a25" stroke="none" stroke-width="1"/>
<rect x="68.89" y="488.6" width="3.2" height="3.2" fill="#258a25" stroke="none" stroke-width="1"/>
<rect x="79.22" y="490.63" width="3.2" height="3.2" fill="#258a25" stroke="none" stroke-width="1"/>
<rect x="89.55" y="494.53" width="3.2" height="3.2" fill="#258a25" stroke="none" stroke-width="1"/>
<rect x="99.88" y="487.2" width="3.2" height="3.2" fill="#258a25" stroke="none" stroke-width="1"/>
<rect x="110.21" y="492.34" width="3.2" height="3.2" fill="#258a25" stroke="none" stroke-width="1"/>
<rect x="120.54" y="492.97" width="3.2" height="3.2" fill="#258a25" stroke="none" stroke-width="1"/>
<rect x="130.87" y="494.06" width="3.2" height="3.2" fill="#258a25" stroke="none" stroke-width="1"/>
<rect x="141.2" y="491.72" width="3.2" height="3.2" fill="#258a25" stroke="none" stroke-width="1"/>
<rect x="151.53" y="490.78" width="3.2" height="3.2" fill="#258a25" stroke="none" stroke-width="1"/>
<rect x="161.86" y="492.97" width="3.2" height="3.2" fill="#258a25" stroke="none" stroke-width="1"/>
<rect x="172.19" y="489.54" width="3.2" height="3.2" fill="#258a25" stroke="none" stroke-width="1"/>
<rect x="182.52" y="491.72" width="3.2" height="3.2" fill="#258a25" stroke="none" stroke-width="1"/>
<rect x="192.85" y="493.28" width="3.2" height="3.2" fill="#258a25" stroke="none" stroke-width="1"/>
<rect x="203.18" y="498.27" width="3.2" height="3.2" fill="#258a25" stroke="none" stroke-width="1"/>
<rect x="213.51" y="497.49" width="3.2" height="3.2" fill="#258a25" stroke="none" stroke-width="1"/>
<rect x="223.84" y="497.49" width="3.2" height="3.2" fill="#258a25" stroke="none" stroke-width="1"/>
<rect x="234.17" y="496.56" width="3.2" height="3.2" fill="#258a25" stroke="none" stroke-width="1"/>
<polyline points="39.5,530.76 49.83,525.92 60.16,543.08 70.49,526.24 80.82,521.87 91.15,516.56 101.48,512.82 111.81,508.14 122.14,503.77 132.47,501.28 142.8,499.09 153.13,498.47 163.46,500.18 173.79,502.21 184.12,504.4 194.45,495.97 204.78,488.64 215.11,485.83 225.44,487.08 235.77,487.08" fill="none" stroke="#c42226" stroke-width="1"/>
<line x1="38.1" y1="529.36" x2="40.9" y2="532.16" stroke="#c42226" stroke-width="0.8"/>
<line x1="38.1" y1="532.16" x2="40.9" y2="529.36" stroke="#c42226" stroke-width="0.8"/>
<line x1="48.43" y1="524.52" x2="51.23" y2="527.32" stroke="#c42226" stroke-width="0.8"/>
<line x1="48.43" y1="527.32" x2="51.23" y2="524.52" stroke="#c42226" stroke-width="0.8"/>
<line x1="58.76" y1="541.68" x2="61.56" y2="544.48" stroke="#c42226" stroke-width="0.8"/>
<line x1="58.76" y1="544.48" x2="61.56" y2="541.68" stroke="#c42226" stroke-width="0.8"/>
<line x1="69.09" y1="524.84" x2="71.89" y2="527.64" stroke="#c42226" stroke-width="0.8"/>
<line x1="69.09" y1="527.64" x2="71.89" y2="524.84" stroke="#c42226" stroke-width="0.8"/>
<line x1="79.42" y1="520.47" x2="82.22" y2="523.27" stroke="#c42226" stroke-width="0.8"/>
<line x1="79.42" y1="523.27" x2="82.22" y2="520.47" stroke="#c42226" stroke-width="0.8"/>
<line x1="89.75" y1="515.16" x2="92.55" y2="517.96" stroke="#c42226" stroke-width="0.8"/>
<line x1="89.75" y1="517.96" x2="92.55" y2="515.16" stroke="#c42226" stroke-width="0.8"/>
<line x1="100.08" y1="511.42" x2="102.88" y2="514.22" stroke="#c42226" stroke-width="0.8"/>
<line x1="100.08" y1="514.22" x2="102.88" y2="511.42" stroke="#c42226" stroke-width="0.8"/>
<line x1="110.41" y1="506.74" x2="113.21" y2="509.54" stroke="#c42226" stroke-width="0.8"/>
<line x1="110.41" y1="509.54" x2="113.21" y2="506.74" stroke="#c42226" stroke-width="0.8"/>
<line x1="120.74" y1="502.37" x2="123.54" y2="505.17" stroke="#c42226" stroke-width="0.8"/>
<line x1="120.74" y1="505.17" x2="123.54" y2="502.37" stroke="#c42226" stroke-width="0.8"/>
<line x1="131.07" y1="499.88" x2="133.87" y2="502.68" stroke="#c42226" stroke-width="0.8"/>
<line x1="131.07" y1="502.68" x2="133.87" y2="499.88" stroke="#c42226" stroke-width="0.8"/>
<line x1="141.4" y1="497.69" x2="144.2" y2="500.49" stroke="#c42226" stroke-width="0.8"/>
<line x1="141.4" y1="500.49" x2="144.2" y2="497.69" stroke="#c42226" stroke-width="0.8"/>
<line x1="151.73" y1="497.07" x2="154.53" y2="499.87" stroke="#c42226" stroke-width="0.8"/>
<line x1="151.73" y1="499.87" x2="154.53" y2="497.07" stroke="#c42226" stroke-width="0.8"/>
<line x1="162.06" y1="498.78" x2="164.86" y2="501.58" stroke="#c42226" stroke-width="0.8"/>
<line x1="162.06" y1="501.58" x2="164.86" y2="498.78" stroke="#c42226" stroke-width="0.8"/>
<line x1="172.39" y1="500.81" x2="175.19" y2="503.61" stroke="#c42226" stroke-width="0.8"/>
<line x1="172.39" y1="503.61" x2="175.19" y2="500.81" stroke="#c42226" stroke-width="0.8"/>
<line x1="182.72" y1="503" x2="185.52" y2="505.8" stroke="#c42226" stroke-width="0.8"/>
<line x1="182.72" y1="505.8" x2="185.52" y2="503" stroke="#c42226" stroke-width="0.8"/>
<line x1="193.05" y1="494.57" x2="195.85" y2="497.37" stroke="#c42226" stroke-width="0.8"/>
<line x1="193.05" y1="497.37" x2="195.85" y2="494.57" stroke="#c42226" stroke-width="0.8"/>
<line x1="203.38" y1="487.24" x2="206.18" y2="490.04" stroke="#c42226" stroke-width="0.8"/>
<line x1="203.38" y1="490.04" x2="206.18" y2="487.24" stroke="#c42226" stroke-width="0.8"/>
<line x1="213.71" y1="484.43" x2="216.51" y2="487.23" stroke="#c42226" stroke-width="0.8"/>
<line x1="213.71" y1="487.23" x2="216.51" y2="484.43" stroke="#c42226" stroke-width="0.8"/>
<line x1="224.04" y1="485.68" x2="226.84" y2="488.48" stroke="#c42226" stroke-width="0.8"/>
<line x1="224.04" y1="488.48" x2="226.84" y2="485.68" stroke="#c42226" stroke-width="0.8"/>
<line x1="234.37" y1="485.68" x2="237.17" y2="488.48" stroke="#c42226" stroke-width="0.8"/>
<line x1="234.37" y1="488.48" x2="237.17" y2="485.68" stroke="#c42226" stroke-width="0.8"/>
<polyline points="39.5,544.49 49.83,544.49 60.16,544.49 70.49,544.33 80.82,544.33 91.15,544.18 101.48,544.18 111.81,544.02 122.14,543.86 132.47,543.71 142.8,543.55 153.13,543.24 163.46,542.93 173.79,542.62 184.12,542.3 194.45,542.3 204.78,542.15 215.11,541.99 225.44,541.99 235.77,541.84" fill="none" stroke="#8060aa" stroke-width="1"/>
<polygon points="39.5,542.49 40.5,544.49 39.5,546.49 38.5,544.49" fill="#8060aa" stroke="none" stroke-width="1"/>
<polygon points="49.83,542.49 50.83,544.49 49.83,546.49 48.83,544.49" fill="#8060aa" stroke="none" stroke-width="1"/>
<polygon points="60.16,542.49 61.16,544.49 60.16,546.49 59.16,544.49" fill="#8060aa" stroke="none" stroke-width="1"/>
<polygon points="70.49,542.33 71.49,544.33 70.49,546.33 69.49,544.33" fill="#8060aa" stroke="none" stroke-width="1"/>
<polygon points="80.82,542.33 81.82,544.33 80.82,546.33 79.82,544.33" fill="#8060aa" stroke="none" stroke-width="1"/>
<polygon points="91.15,542.18 92.15,544.18 91.15,546.18 90.15,544.18" fill="#8060aa" stroke="none" stroke-width="1"/>
<polygon points="101.48,542.18 102.48,544.18 101.48,546.18 100.48,544.18" fill="#8060aa" stroke="none" stroke-width="1"/>
<polygon points="111.81,542.02 112.81,544.02 111.81,546.02 110.81,544.02" fill="#8060aa" stroke="none" stroke-width="1"/>
<polygon points="122.14,541.86 123.14,543.86 122.14,545.86 121.14,543.86" fill="#8060aa" stroke="none" stroke-width="1"/>
<polygon points="132.47,541.71 133.47,543.71 132.47,545.71 131.47,543.71" fill="#8060aa" stroke="none" stroke-width="1"/>
<polygon points="142.8,541.55 143.8,543.55 142.8,545.55 141.8,543.55" fill="#8060aa" stroke="none" stroke-width="1"/>
<polygon points="153.13,541.24 154.13,543.24 153.13,545.24 152.13,543.24" fill="#8060aa" stroke="none" stroke-width="1"/>
<polygon points="163.46,540.93 164.46,542.93 163.46,544.93 162.46,542.93" fill="#8060aa" stroke="none" stroke-width="1"/>
<polygon points="173.79,540.62 174.79,542.62 173.79,544.62 172.79,542.62" fill="#8060aa" stroke="none" stroke-width="1"/>
<polygon points="184.12,540.3 185.12,542.3 184.12,544.3 183.12,542.3" fill="#8060aa" stroke="none" stroke-width="1"/>
<polygon points="194.45,540.3 195.45,542.3 194.45,544.3 193.45,542.3" fill="#8060aa" stroke="none" stroke-width="1"/>
<polygon points="204.78,540.15 205.78,542.15 204.78,544.15 203.78,542.15" fill="#8060aa" stroke="none" stroke-width="1"/>
<polygon points="215.11,539.99 216.11,541.99 215.11,543.99 214.11,541.99" fill="#8060aa" stroke="none" stroke-width="1"/>
<polygon points="225.44,539.99 226.44,541.99 225.44,543.99 224.44,541.99" fill="#8060aa" stroke="none" stroke-width="1"/>
<polygon points="235.77,539.84 236.77,541.84 235.77,543.84 234.77,541.84" fill="#8060aa" stroke="none" stroke-width="1"/>
<line x1="163.3" y1="401.2" x2="184.2" y2="401.2" stroke="#1d62a0" stroke-width="1"/>
<circle cx="173.8" cy="401.2" r="1.5" fill="#1d62a0" stroke="none" stroke-width="0.5"/>
<text x="192" y="404.6" font-size="10" text-anchor="start" font-weight="normal" font-style="normal" fill="#111111" color="#111111" font-family="'Liberation Serif', serif">AD</text>
<line x1="163.3" y1="415.15" x2="184.2" y2="415.15" stroke="#e0741a" stroke-width="1"/>
<circle cx="173.8" cy="415.15" r="1.3" fill="#e0741a" stroke="none" stroke-width="0.5"/>
<text x="192" y="418.55" font-size="10" text-anchor="start" font-weight="normal" font-style="normal" fill="#111111" color="#111111" font-family="'Liberation Serif', serif">ADD</text>
<line x1="163.3" y1="429.1" x2="184.2" y2="429.1" stroke="#258a25" stroke-width="1"/>
<rect x="172.2" y="427.5" width="3.2" height="3.2" fill="#258a25" stroke="none" stroke-width="1"/>
<text x="192" y="432.5" font-size="10" text-anchor="start" font-weight="normal" font-style="normal" fill="#111111" color="#111111" font-family="'Liberation Serif', serif">AAD</text>
<line x1="163.3" y1="443.05" x2="184.2" y2="443.05" stroke="#c42226" stroke-width="1"/>
<line x1="172.4" y1="441.65" x2="175.2" y2="444.45" stroke="#c42226" stroke-width="0.8"/>
<line x1="172.4" y1="444.45" x2="175.2" y2="441.65" stroke="#c42226" stroke-width="0.8"/>
<text x="192" y="446.45" font-size="10" text-anchor="start" font-weight="normal" font-style="normal" fill="#111111" color="#111111" font-family="'Liberation Serif', serif">AADD</text>
<line x1="163.3" y1="457" x2="184.2" y2="457" stroke="#8060aa" stroke-width="1"/>
<polygon points="173.8,455 174.8,457 173.8,459 172.8,457" fill="#8060aa" stroke="none" stroke-width="1"/>
<text x="192" y="460.4" font-size="10" text-anchor="start" font-weight="normal" font-style="normal" fill="#111111" color="#111111" font-family="'Liberation Serif', serif">AAADD</text>
<polygon points="291.7,456.04 302.08,473.2 312.46,530.92 322.84,524.68 333.22,527.8 343.6,529.36 353.98,535.6 364.36,537.16 374.74,537.16 385.12,537.16 395.5,537.16 405.88,541.06 416.26,541.06 426.64,541.06 437.02,541.06 447.4,541.06 457.78,541.06 468.16,541.06 478.54,541.06 488.92,541.06 488.92,543.4 478.54,543.4 468.16,543.4 457.78,543.4 447.4,543.4 437.02,543.4 426.64,543.4 416.26,543.4 405.88,543.4 395.5,543.4 385.12,543.4 374.74,543.4 364.36,543.4 353.98,543.4 343.6,543.4 333.22,543.4 322.84,543.4 312.46,543.4 302.08,543.4 291.7,535.6" fill="#1f77b4" stroke="none" stroke-width="1" fill-opacity="0.22"/>
<polygon points="291.7,393.64 302.08,402.22 312.46,402.22 322.84,419.38 333.22,426.4 343.6,431.08 353.98,412.36 364.36,431.08 374.74,427.96 385.12,431.08 395.5,435.76 405.88,477.88 416.26,479.44 426.64,491.92 437.02,491.92 447.4,493.48 457.78,482.56 468.16,482.56 478.54,487.24 488.92,488.8 488.92,515.32 478.54,513.76 468.16,510.64 457.78,510.64 447.4,518.44 437.02,516.88 426.64,516.88 416.26,509.08 405.88,505.96 395.5,474.76 385.12,477.88 374.74,473.2 364.36,481 353.98,474.76 343.6,488.8 333.22,485.68 322.84,473.2 312.46,470.08 302.08,476.32 291.7,481" fill="#ff7f0e" stroke="none" stroke-width="1" fill-opacity="0.22"/>
<polygon points="291.7,481 302.08,470.08 312.46,454.48 322.84,452.92 333.22,449.8 343.6,448.24 353.98,452.92 364.36,454.48 374.74,457.6 385.12,454.48 395.5,447.3 405.88,420.16 416.26,423.28 426.64,424.84 437.02,423.28 447.4,424.06 457.78,432.64 468.16,432.64 478.54,431.08 488.92,429.99 488.92,466.96 478.54,465.4 468.16,465.4 457.78,470.08 447.4,470.08 437.02,463.84 426.64,465.4 416.26,471.64 405.88,476.32 395.5,512.2 385.12,515.32 374.74,516.88 364.36,521.56 353.98,512.2 343.6,522.5 333.22,524.06 322.84,527.02 312.46,535.6 302.08,532.48 291.7,543.4" fill="#2ca02c" stroke="none" stroke-width="1" fill-opacity="0.22"/>
<polygon points="291.7,538.72 302.08,540.28 312.46,541.84 322.84,530.92 333.22,524.68 343.6,523.12 353.98,523.9 364.36,523.12 374.74,523.12 385.12,520 395.5,516.88 405.88,515.32 416.26,512.2 426.64,509.55 437.02,509.55 447.4,512.2 457.78,516.88 468.16,520 478.54,513.76 488.92,508.14 488.92,535.6 478.54,538.72 468.16,541.84 457.78,538.72 447.4,540.28 437.02,538.72 426.64,538.72 416.26,540.28 405.88,541.84 395.5,543.4 385.12,543.4 374.74,543.4 364.36,543.4 353.98,543.4 343.6,543.4 333.22,543.4 322.84,543.4 312.46,543.4 302.08,543.4 291.7,543.4" fill="#d62728" stroke="none" stroke-width="1" fill-opacity="0.22"/>
<polygon points="291.7,541.84 302.08,541.84 312.46,541.84 322.84,541.84 333.22,541.84 343.6,541.84 353.98,541.84 364.36,541.84 374.74,541.84 385.12,541.84 395.5,541.84 405.88,541.84 416.26,541.84 426.64,541.84 437.02,541.84 447.4,541.84 457.78,541.84 468.16,541.84 478.54,541.84 488.92,541.84 488.92,543.4 478.54,543.4 468.16,543.4 457.78,543.4 447.4,543.4 437.02,543.4 426.64,543.4 416.26,543.4 405.88,543.4 395.5,543.4 385.12,543.4 374.74,543.4 364.36,543.4 353.98,543.4 343.6,543.4 333.22,543.4 322.84,543.4 312.46,543.4 302.08,543.4 291.7,543.4" fill="#9467bd" stroke="none" stroke-width="1" fill-opacity="0.22"/>
<polyline points="291.7,495.66 302.08,508.14 312.46,540.9 322.84,535.13 333.22,536.54 343.6,537.94 353.98,540.9 364.36,541.06 374.74,541.84 385.12,541.84 395.5,542.46 405.88,542.78 416.26,542.93 426.64,542.93 437.02,542.93 447.4,542.93 457.78,542.93 468.16,542.93 478.54,542.93 488.92,542.93" fill="none" stroke="#1d62a0" stroke-width="1"/>
<circle cx="291.7" cy="495.66" r="1.5" fill="#1d62a0" stroke="none" stroke-width="0.5"/>
<circle cx="302.08" cy="508.14" r="1.5" fill="#1d62a0" stroke="none" stroke-width="0.5"/>
<circle cx="312.46" cy="540.9" r="1.5" fill="#1d62a0" stroke="none" stroke-width="0.5"/>
<circle cx="322.84" cy="535.13" r="1.5" fill="#1d62a0" stroke="none" stroke-width="0.5"/>
<circle cx="333.22" cy="536.54" r="1.5" fill="#1d62a0" stroke="none" stroke-width="0.5"/>
<circle cx="343.6" cy="537.94" r="1.5" fill="#1d62a0" stroke="none" stroke-width="0.5"/>
<circle cx="353.98" cy="540.9" r="1.5" fill="#1d62a0" stroke="none" stroke-width="0.5"/>
<circle cx="364.36" cy="541.06" r="1.5" fill="#1d62a0" stroke="none" stroke-width="0.5"/>
<circle cx="374.74" cy="541.84" r="1.5" fill="#1d62a0" stroke="none" stroke-width="0.5"/>
<circle cx="385.12" cy="541.84" r="1.5" fill="#1d62a0" stroke="none" stroke-width="0.5"/>
<circle cx="395.5" cy="542.46" r="1.5" fill="#1d62a0" stroke="none" stroke-width="0.5"/>
<circle cx="405.88" cy="542.78" r="1.5" fill="#1d62a0" stroke="none" stroke-width="0.5"/>
<circle cx="416.26" cy="542.93" r="1.5" fill="#1d62a0" stroke="none" stroke-width="0.5"/>
<circle cx="426.64" cy="542.93" r="1.5" fill="#1d62a0" stroke="none" stroke-width="0.5"/>
<circle cx="437.02" cy="542.93" r="1.5" fill="#1d62a0" stroke="none" stroke-width="0.5"/>
<circle cx="447.4" cy="542.93" r="1.5" fill="#1d62a0" stroke="none" stroke-width="0.5"/>
<circle cx="457.78" cy="542.93" r="1.5" fill="#1d62a0" stroke="none" stroke-width="0.5"/>
<circle cx="468.16" cy="542.93" r="1.5" fill="#1d62a0" stroke="none" stroke-width="0.5"/>
<circle cx="478.54" cy="542.93" r="1.5" fill="#1d62a0" stroke="none" stroke-width="0.5"/>
<circle cx="488.92" cy="542.93" r="1.5" fill="#1d62a0" stroke="none" stroke-width="0.5"/>
<polyline points="291.7,458.85 302.08,458.85 312.46,436.54 322.84,451.05 333.22,458.07 343.6,463.22 353.98,445.28 364.36,455.88 374.74,449.18 385.12,454.95 395.5,453.86 405.88,490.83 416.26,493.17 426.64,505.34 437.02,504.71 447.4,505.96 457.78,495.04 468.16,495.04 478.54,499.41 488.92,503.31" fill="none" stroke="#e0741a" stroke-width="1"/>
<circle cx="291.7" cy="458.85" r="1.3" fill="#e0741a" stroke="none" stroke-width="0.5"/>
<circle cx="302.08" cy="458.85" r="1.3" fill="#e0741a" stroke="none" stroke-width="0.5"/>
<circle cx="312.46" cy="436.54" r="1.3" fill="#e0741a" stroke="none" stroke-width="0.5"/>
<circle cx="322.84" cy="451.05" r="1.3" fill="#e0741a" stroke="none" stroke-width="0.5"/>
<circle cx="333.22" cy="458.07" r="1.3" fill="#e0741a" stroke="none" stroke-width="0.5"/>
<circle cx="343.6" cy="463.22" r="1.3" fill="#e0741a" stroke="none" stroke-width="0.5"/>
<circle cx="353.98" cy="445.28" r="1.3" fill="#e0741a" stroke="none" stroke-width="0.5"/>
<circle cx="364.36" cy="455.88" r="1.3" fill="#e0741a" stroke="none" stroke-width="0.5"/>
<circle cx="374.74" cy="449.18" r="1.3" fill="#e0741a" stroke="none" stroke-width="0.5"/>
<circle cx="385.12" cy="454.95" r="1.3" fill="#e0741a" stroke="none" stroke-width="0.5"/>
<circle cx="395.5" cy="453.86" r="1.3" fill="#e0741a" stroke="none" stroke-width="0.5"/>
<circle cx="405.88" cy="490.83" r="1.3" fill="#e0741a" stroke="none" stroke-width="0.5"/>
<circle cx="416.26" cy="493.17" r="1.3" fill="#e0741a" stroke="none" stroke-width="0.5"/>
<circle cx="426.64" cy="505.34" r="1.3" fill="#e0741a" stroke="none" stroke-width="0.5"/>
<circle cx="437.02" cy="504.71" r="1.3" fill="#e0741a" stroke="none" stroke-width="0.5"/>
<circle cx="447.4" cy="505.96" r="1.3" fill="#e0741a" stroke="none" stroke-width="0.5"/>
<circle cx="457.78" cy="495.04" r="1.3" fill="#e0741a" stroke="none" stroke-width="0.5"/>
<circle cx="468.16" cy="495.04" r="1.3" fill="#e0741a" stroke="none" stroke-width="0.5"/>
<circle cx="478.54" cy="499.41" r="1.3" fill="#e0741a" stroke="none" stroke-width="0.5"/>
<circle cx="488.92" cy="503.31" r="1.3" fill="#e0741a" stroke="none" stroke-width="0.5"/>
<polyline points="291.7,521.25 302.08,508.14 312.46,496.6 322.84,489.27 333.22,482.87 343.6,479.13 353.98,491.45 364.36,480.53 374.74,488.33 385.12,483.96 395.5,483.96 405.88,451.05 416.26,452.92 426.64,442 437.02,444.34 447.4,442.94 457.78,452.92 468.16,447.77 478.54,448.08 488.92,448.71" fill="none" stroke="#258a25" stroke-width="1"/>
<rect x="290.1" y="519.65" width="3.2" height="3.2" fill="#258a25" stroke="none" stroke-width="1"/>
<rect x="300.48" y="506.54" width="3.2" height="3.2" fill="#258a25" stroke="none" stroke-width="1"/>
<rect x="310.86" y="495" width="3.2" height="3.2" fill="#258a25" stroke="none" stroke-width="1"/>
<rect x="321.24" y="487.67" width="3.2" height="3.2" fill="#258a25" stroke="none" stroke-width="1"/>
<rect x="331.62" y="481.27" width="3.2" height="3.2" fill="#258a25" stroke="none" stroke-width="1"/>
<rect x="342" y="477.53" width="3.2" height="3.2" fill="#258a25" stroke="none" stroke-width="1"/>
<rect x="352.38" y="489.85" width="3.2" height="3.2" fill="#258a25" stroke="none" stroke-width="1"/>
<rect x="362.76" y="478.93" width="3.2" height="3.2" fill="#258a25" stroke="none" stroke-width="1"/>
<rect x="373.14" y="486.73" width="3.2" height="3.2" fill="#258a25" stroke="none" stroke-width="1"/>
<rect x="383.52" y="482.36" width="3.2" height="3.2" fill="#258a25" stroke="none" stroke-width="1"/>
<rect x="393.9" y="482.36" width="3.2" height="3.2" fill="#258a25" stroke="none" stroke-width="1"/>
<rect x="404.28" y="449.45" width="3.2" height="3.2" fill="#258a25" stroke="none" stroke-width="1"/>
<rect x="414.66" y="451.32" width="3.2" height="3.2" fill="#258a25" stroke="none" stroke-width="1"/>
<rect x="425.04" y="440.4" width="3.2" height="3.2" fill="#258a25" stroke="none" stroke-width="1"/>
<rect x="435.42" y="442.74" width="3.2" height="3.2" fill="#258a25" stroke="none" stroke-width="1"/>
<rect x="445.8" y="441.34" width="3.2" height="3.2" fill="#258a25" stroke="none" stroke-width="1"/>
<rect x="456.18" y="451.32" width="3.2" height="3.2" fill="#258a25" stroke="none" stroke-width="1"/>
<rect x="466.56" y="446.17" width="3.2" height="3.2" fill="#258a25" stroke="none" stroke-width="1"/>
<rect x="476.94" y="446.48" width="3.2" height="3.2" fill="#258a25" stroke="none" stroke-width="1"/>
<rect x="487.32" y="447.11" width="3.2" height="3.2" fill="#258a25" stroke="none" stroke-width="1"/>
<polyline points="291.7,542.31 302.08,542.93 312.46,543.4 322.84,542.31 333.22,539.97 343.6,537.16 353.98,539.97 364.36,538.72 374.74,538.72 385.12,535.6 395.5,536.38 405.88,532.79 416.26,529.05 426.64,526.4 437.02,524.99 447.4,526.08 457.78,527.02 468.16,531.39 478.54,527.02 488.92,522.65" fill="none" stroke="#c42226" stroke-width="1"/>
<line x1="290.3" y1="540.91" x2="293.1" y2="543.71" stroke="#c42226" stroke-width="0.8"/>
<line x1="290.3" y1="543.71" x2="293.1" y2="540.91" stroke="#c42226" stroke-width="0.8"/>
<line x1="300.68" y1="541.53" x2="303.48" y2="544.33" stroke="#c42226" stroke-width="0.8"/>
<line x1="300.68" y1="544.33" x2="303.48" y2="541.53" stroke="#c42226" stroke-width="0.8"/>
<line x1="311.06" y1="542" x2="313.86" y2="544.8" stroke="#c42226" stroke-width="0.8"/>
<line x1="311.06" y1="544.8" x2="313.86" y2="542" stroke="#c42226" stroke-width="0.8"/>
<line x1="321.44" y1="540.91" x2="324.24" y2="543.71" stroke="#c42226" stroke-width="0.8"/>
<line x1="321.44" y1="543.71" x2="324.24" y2="540.91" stroke="#c42226" stroke-width="0.8"/>
<line x1="331.82" y1="538.57" x2="334.62" y2="541.37" stroke="#c42226" stroke-width="0.8"/>
<line x1="331.82" y1="541.37" x2="334.62" y2="538.57" stroke="#c42226" stroke-width="0.8"/>
<line x1="342.2" y1="535.76" x2="345" y2="538.56" stroke="#c42226" stroke-width="0.8"/>
<line x1="342.2" y1="538.56" x2="345" y2="535.76" stroke="#c42226" stroke-width="0.8"/>
<line x1="352.58" y1="538.57" x2="355.38" y2="541.37" stroke="#c42226" stroke-width="0.8"/>
<line x1="352.58" y1="541.37" x2="355.38" y2="538.57" stroke="#c42226" stroke-width="0.8"/>
<line x1="362.96" y1="537.32" x2="365.76" y2="540.12" stroke="#c42226" stroke-width="0.8"/>
<line x1="362.96" y1="540.12" x2="365.76" y2="537.32" stroke="#c42226" stroke-width="0.8"/>
<line x1="373.34" y1="537.32" x2="376.14" y2="540.12" stroke="#c42226" stroke-width="0.8"/>
<line x1="373.34" y1="540.12" x2="376.14" y2="537.32" stroke="#c42226" stroke-width="0.8"/>
<line x1="383.72" y1="534.2" x2="386.52" y2="537" stroke="#c42226" stroke-width="0.8"/>
<line x1="383.72" y1="537" x2="386.52" y2="534.2" stroke="#c42226" stroke-width="0.8"/>
<line x1="394.1" y1="534.98" x2="396.9" y2="537.78" stroke="#c42226" stroke-width="0.8"/>
<line x1="394.1" y1="537.78" x2="396.9" y2="534.98" stroke="#c42226" stroke-width="0.8"/>
<line x1="404.48" y1="531.39" x2="407.28" y2="534.19" stroke="#c42226" stroke-width="0.8"/>
<line x1="404.48" y1="534.19" x2="407.28" y2="531.39" stroke="#c42226" stroke-width="0.8"/>
<line x1="414.86" y1="527.65" x2="417.66" y2="530.45" stroke="#c42226" stroke-width="0.8"/>
<line x1="414.86" y1="530.45" x2="417.66" y2="527.65" stroke="#c42226" stroke-width="0.8"/>
<line x1="425.24" y1="525" x2="428.04" y2="527.8" stroke="#c42226" stroke-width="0.8"/>
<line x1="425.24" y1="527.8" x2="428.04" y2="525" stroke="#c42226" stroke-width="0.8"/>
<line x1="435.62" y1="523.59" x2="438.42" y2="526.39" stroke="#c42226" stroke-width="0.8"/>
<line x1="435.62" y1="526.39" x2="438.42" y2="523.59" stroke="#c42226" stroke-width="0.8"/>
<line x1="446" y1="524.68" x2="448.8" y2="527.48" stroke="#c42226" stroke-width="0.8"/>
<line x1="446" y1="527.48" x2="448.8" y2="524.68" stroke="#c42226" stroke-width="0.8"/>
<line x1="456.38" y1="525.62" x2="459.18" y2="528.42" stroke="#c42226" stroke-width="0.8"/>
<line x1="456.38" y1="528.42" x2="459.18" y2="525.62" stroke="#c42226" stroke-width="0.8"/>
<line x1="466.76" y1="529.99" x2="469.56" y2="532.79" stroke="#c42226" stroke-width="0.8"/>
<line x1="466.76" y1="532.79" x2="469.56" y2="529.99" stroke="#c42226" stroke-width="0.8"/>
<line x1="477.14" y1="525.62" x2="479.94" y2="528.42" stroke="#c42226" stroke-width="0.8"/>
<line x1="477.14" y1="528.42" x2="479.94" y2="525.62" stroke="#c42226" stroke-width="0.8"/>
<line x1="487.52" y1="521.25" x2="490.32" y2="524.05" stroke="#c42226" stroke-width="0.8"/>
<line x1="487.52" y1="524.05" x2="490.32" y2="521.25" stroke="#c42226" stroke-width="0.8"/>
<polyline points="291.7,543.4 302.08,543.4 312.46,543.4 322.84,543.4 333.22,543.4 343.6,543.4 353.98,543.24 364.36,543.24 374.74,543.24 385.12,543.24 395.5,543.24 405.88,543.24 416.26,543.09 426.64,543.09 437.02,543.09 447.4,543.09 457.78,543.09 468.16,543.09 478.54,543.09 488.92,543.09" fill="none" stroke="#8060aa" stroke-width="1"/>
<polygon points="291.7,541.4 292.7,543.4 291.7,545.4 290.7,543.4" fill="#8060aa" stroke="none" stroke-width="1"/>
<polygon points="302.08,541.4 303.08,543.4 302.08,545.4 301.08,543.4" fill="#8060aa" stroke="none" stroke-width="1"/>
<polygon points="312.46,541.4 313.46,543.4 312.46,545.4 311.46,543.4" fill="#8060aa" stroke="none" stroke-width="1"/>
<polygon points="322.84,541.4 323.84,543.4 322.84,545.4 321.84,543.4" fill="#8060aa" stroke="none" stroke-width="1"/>
<polygon points="333.22,541.4 334.22,543.4 333.22,545.4 332.22,543.4" fill="#8060aa" stroke="none" stroke-width="1"/>
<polygon points="343.6,541.4 344.6,543.4 343.6,545.4 342.6,543.4" fill="#8060aa" stroke="none" stroke-width="1"/>
<polygon points="353.98,541.24 354.98,543.24 353.98,545.24 352.98,543.24" fill="#8060aa" stroke="none" stroke-width="1"/>
<polygon points="364.36,541.24 365.36,543.24 364.36,545.24 363.36,543.24" fill="#8060aa" stroke="none" stroke-width="1"/>
<polygon points="374.74,541.24 375.74,543.24 374.74,545.24 373.74,543.24" fill="#8060aa" stroke="none" stroke-width="1"/>
<polygon points="385.12,541.24 386.12,543.24 385.12,545.24 384.12,543.24" fill="#8060aa" stroke="none" stroke-width="1"/>
<polygon points="395.5,541.24 396.5,543.24 395.5,545.24 394.5,543.24" fill="#8060aa" stroke="none" stroke-width="1"/>
<polygon points="405.88,541.24 406.88,543.24 405.88,545.24 404.88,543.24" fill="#8060aa" stroke="none" stroke-width="1"/>
<polygon points="416.26,541.09 417.26,543.09 416.26,545.09 415.26,543.09" fill="#8060aa" stroke="none" stroke-width="1"/>
<polygon points="426.64,541.09 427.64,543.09 426.64,545.09 425.64,543.09" fill="#8060aa" stroke="none" stroke-width="1"/>
<polygon points="437.02,541.09 438.02,543.09 437.02,545.09 436.02,543.09" fill="#8060aa" stroke="none" stroke-width="1"/>
<polygon points="447.4,541.09 448.4,543.09 447.4,545.09 446.4,543.09" fill="#8060aa" stroke="none" stroke-width="1"/>
<polygon points="457.78,541.09 458.78,543.09 457.78,545.09 456.78,543.09" fill="#8060aa" stroke="none" stroke-width="1"/>
<polygon points="468.16,541.09 469.16,543.09 468.16,545.09 467.16,543.09" fill="#8060aa" stroke="none" stroke-width="1"/>
<polygon points="478.54,541.09 479.54,543.09 478.54,545.09 477.54,543.09" fill="#8060aa" stroke="none" stroke-width="1"/>
<polygon points="488.92,541.09 489.92,543.09 488.92,545.09 487.92,543.09" fill="#8060aa" stroke="none" stroke-width="1"/>
<line x1="341.7" y1="399.8" x2="362.3" y2="399.8" stroke="#1d62a0" stroke-width="1"/>
<circle cx="352.2" cy="399.8" r="1.5" fill="#1d62a0" stroke="none" stroke-width="0.5"/>
<text x="370.2" y="403.2" font-size="10" text-anchor="start" font-weight="normal" font-style="normal" fill="#111111" color="#111111" font-family="'Liberation Serif', serif">3</text>
<line x1="341.7" y1="413.3" x2="362.3" y2="413.3" stroke="#e0741a" stroke-width="1"/>
<circle cx="352.2" cy="413.3" r="1.3" fill="#e0741a" stroke="none" stroke-width="0.5"/>
<text x="370.2" y="416.7" font-size="10" text-anchor="start" font-weight="normal" font-style="normal" fill="#111111" color="#111111" font-family="'Liberation Serif', serif">4</text>
<line x1="394" y1="399.8" x2="414.6" y2="399.8" stroke="#258a25" stroke-width="1"/>
<rect x="402.7" y="398.2" width="3.2" height="3.2" fill="#258a25" stroke="none" stroke-width="1"/>
<text x="422.3" y="403.2" font-size="10" text-anchor="start" font-weight="normal" font-style="normal" fill="#111111" color="#111111" font-family="'Liberation Serif', serif">5</text>
<line x1="394" y1="413.3" x2="414.6" y2="413.3" stroke="#c42226" stroke-width="1"/>
<line x1="402.9" y1="411.9" x2="405.7" y2="414.7" stroke="#c42226" stroke-width="0.8"/>
<line x1="402.9" y1="414.7" x2="405.7" y2="411.9" stroke="#c42226" stroke-width="0.8"/>
<text x="422.3" y="416.7" font-size="10" text-anchor="start" font-weight="normal" font-style="normal" fill="#111111" color="#111111" font-family="'Liberation Serif', serif">6</text>
<line x1="446.9" y1="399.8" x2="467.5" y2="399.8" stroke="#8060aa" stroke-width="1"/>
<polygon points="457.2,397.8 458.2,399.8 457.2,401.8 456.2,399.8" fill="#8060aa" stroke="none" stroke-width="1"/>
<text x="474.6" y="403.2" font-size="10" text-anchor="start" font-weight="normal" font-style="normal" fill="#111111" color="#111111" font-family="'Liberation Serif', serif">7</text>
<rect x="39.5" y="10" width="197" height="156" fill="none" stroke="#8f8f8f" stroke-width="1"/>
<line x1="37" y1="166" x2="39.5" y2="166" stroke="#8f8f8f" stroke-width="1"/>
<text x="35.5" y="170.03" font-size="9.8" text-anchor="end" font-weight="normal" font-style="normal" fill="#111111" color="#111111" font-family="'Liberation Serif', serif">40</text>
<line x1="37" y1="140" x2="39.5" y2="140" stroke="#8f8f8f" stroke-width="1"/>
<text x="35.5" y="144.03" font-size="9.8" text-anchor="end" font-weight="normal" font-style="normal" fill="#111111" color="#111111" font-family="'Liberation Serif', serif">50</text>
<line x1="37" y1="114" x2="39.5" y2="114" stroke="#8f8f8f" stroke-width="1"/>
<text x="35.5" y="118.03" font-size="9.8" text-anchor="end" font-weight="normal" font-style="normal" fill="#111111" color="#111111" font-family="'Liberation Serif', serif">60</text>
<line x1="37" y1="88" x2="39.5" y2="88" stroke="#8f8f8f" stroke-width="1"/>
<text x="35.5" y="92.03" font-size="9.8" text-anchor="end" font-weight="normal" font-style="normal" fill="#111111" color="#111111" font-family="'Liberation Serif', serif">70</text>
<line x1="37" y1="62" x2="39.5" y2="62" stroke="#8f8f8f" stroke-width="1"/>
<text x="35.5" y="66.03" font-size="9.8" text-anchor="end" font-weight="normal" font-style="normal" fill="#111111" color="#111111" font-family="'Liberation Serif', serif">80</text>
<line x1="37" y1="36" x2="39.5" y2="36" stroke="#8f8f8f" stroke-width="1"/>
<text x="35.5" y="40.03" font-size="9.8" text-anchor="end" font-weight="normal" font-style="normal" fill="#111111" color="#111111" font-family="'Liberation Serif', serif">90</text>
<line x1="37" y1="10" x2="39.5" y2="10" stroke="#8f8f8f" stroke-width="1"/>
<text x="35.5" y="14.03" font-size="9.8" text-anchor="end" font-weight="normal" font-style="normal" fill="#111111" color="#111111" font-family="'Liberation Serif', serif">100</text>
<line x1="44.4" y1="166" x2="44.4" y2="168.5" stroke="#8f8f8f" stroke-width="1"/>
<text x="44.4" y="177.6" font-size="9.8" text-anchor="middle" font-weight="normal" font-style="normal" fill="#111111" color="#111111" font-family="'Liberation Serif', serif">6</text>
<line x1="64.1" y1="166" x2="64.1" y2="168.5" stroke="#8f8f8f" stroke-width="1"/>
<text x="64.1" y="177.6" font-size="9.8" text-anchor="middle" font-weight="normal" font-style="normal" fill="#111111" color="#111111" font-family="'Liberation Serif', serif">8</text>
<line x1="83.8" y1="166" x2="83.8" y2="168.5" stroke="#8f8f8f" stroke-width="1"/>
<text x="83.8" y="177.6" font-size="9.8" text-anchor="middle" font-weight="normal" font-style="normal" fill="#111111" color="#111111" font-family="'Liberation Serif', serif">10</text>
<line x1="103.5" y1="166" x2="103.5" y2="168.5" stroke="#8f8f8f" stroke-width="1"/>
<text x="103.5" y="177.6" font-size="9.8" text-anchor="middle" font-weight="normal" font-style="normal" fill="#111111" color="#111111" font-family="'Liberation Serif', serif">12</text>
<line x1="123.2" y1="166" x2="123.2" y2="168.5" stroke="#8f8f8f" stroke-width="1"/>
<text x="123.2" y="177.6" font-size="9.8" text-anchor="middle" font-weight="normal" font-style="normal" fill="#111111" color="#111111" font-family="'Liberation Serif', serif">14</text>
<line x1="142.9" y1="166" x2="142.9" y2="168.5" stroke="#8f8f8f" stroke-width="1"/>
<text x="142.9" y="177.6" font-size="9.8" text-anchor="middle" font-weight="normal" font-style="normal" fill="#111111" color="#111111" font-family="'Liberation Serif', serif">16</text>
<line x1="162.6" y1="166" x2="162.6" y2="168.5" stroke="#8f8f8f" stroke-width="1"/>
<text x="162.6" y="177.6" font-size="9.8" text-anchor="middle" font-weight="normal" font-style="normal" fill="#111111" color="#111111" font-family="'Liberation Serif', serif">18</text>
<line x1="182.3" y1="166" x2="182.3" y2="168.5" stroke="#8f8f8f" stroke-width="1"/>
<text x="182.3" y="177.6" font-size="9.8" text-anchor="middle" font-weight="normal" font-style="normal" fill="#111111" color="#111111" font-family="'Liberation Serif', serif">20</text>
<line x1="202" y1="166" x2="202" y2="168.5" stroke="#8f8f8f" stroke-width="1"/>
<text x="202" y="177.6" font-size="9.8" text-anchor="middle" font-weight="normal" font-style="normal" fill="#111111" color="#111111" font-family="'Liberation Serif', serif">22</text>
<line x1="221.7" y1="166" x2="221.7" y2="168.5" stroke="#8f8f8f" stroke-width="1"/>
<text x="221.7" y="177.6" font-size="9.8" text-anchor="middle" font-weight="normal" font-style="normal" fill="#111111" color="#111111" font-family="'Liberation Serif', serif">24</text>
<text x="138" y="187.3" font-size="10.8" text-anchor="middle" fill="#111111" font-family="'Liberation Serif', serif">Cluster size, <tspan font-family="'Liberation Sans', sans-serif" font-style="italic">n</tspan></text>
<text x="19" y="88" font-size="13.2" text-anchor="middle" font-weight="normal" font-style="normal" fill="#111111" color="#111111" font-family="'Liberation Serif', serif" transform="rotate(-90 19 88)">% HB</text>
<text x="1.3" y="10.9" font-size="14" text-anchor="start" font-weight="bold" font-style="normal" fill="#111111" color="#111111" font-family="'Liberation Serif', serif">A.</text>
<rect x="292.2" y="8" width="201.5" height="160.5" fill="none" stroke="#8f8f8f" stroke-width="1"/>
<line x1="290.7" y1="149.6" x2="292.2" y2="149.6" stroke="#8f8f8f" stroke-width="1"/>
<text x="289.2" y="153.63" font-size="9.8" text-anchor="end" font-weight="normal" font-style="normal" fill="#111111" color="#111111" font-family="'Liberation Serif', serif">2.50</text>
<line x1="290.7" y1="130.03" x2="292.2" y2="130.03" stroke="#8f8f8f" stroke-width="1"/>
<text x="289.2" y="134.06" font-size="9.8" text-anchor="end" font-weight="normal" font-style="normal" fill="#111111" color="#111111" font-family="'Liberation Serif', serif">2.75</text>
<line x1="290.7" y1="110.45" x2="292.2" y2="110.45" stroke="#8f8f8f" stroke-width="1"/>
<text x="289.2" y="114.48" font-size="9.8" text-anchor="end" font-weight="normal" font-style="normal" fill="#111111" color="#111111" font-family="'Liberation Serif', serif">3.00</text>
<line x1="290.7" y1="90.88" x2="292.2" y2="90.88" stroke="#8f8f8f" stroke-width="1"/>
<text x="289.2" y="94.91" font-size="9.8" text-anchor="end" font-weight="normal" font-style="normal" fill="#111111" color="#111111" font-family="'Liberation Serif', serif">3.25</text>
<line x1="290.7" y1="71.3" x2="292.2" y2="71.3" stroke="#8f8f8f" stroke-width="1"/>
<text x="289.2" y="75.33" font-size="9.8" text-anchor="end" font-weight="normal" font-style="normal" fill="#111111" color="#111111" font-family="'Liberation Serif', serif">3.50</text>
<line x1="290.7" y1="51.72" x2="292.2" y2="51.72" stroke="#8f8f8f" stroke-width="1"/>
<text x="289.2" y="55.76" font-size="9.8" text-anchor="end" font-weight="normal" font-style="normal" fill="#111111" color="#111111" font-family="'Liberation Serif', serif">3.75</text>
<line x1="290.7" y1="32.15" x2="292.2" y2="32.15" stroke="#8f8f8f" stroke-width="1"/>
<text x="289.2" y="36.18" font-size="9.8" text-anchor="end" font-weight="normal" font-style="normal" fill="#111111" color="#111111" font-family="'Liberation Serif', serif">4.00</text>
<line x1="290.7" y1="12.57" x2="292.2" y2="12.57" stroke="#8f8f8f" stroke-width="1"/>
<text x="289.2" y="16.61" font-size="9.8" text-anchor="end" font-weight="normal" font-style="normal" fill="#111111" color="#111111" font-family="'Liberation Serif', serif">4.25</text>
<line x1="493.7" y1="168" x2="495.2" y2="168" stroke="#8f8f8f" stroke-width="1"/>
<text x="496.7" y="172.03" font-size="9.8" text-anchor="start" font-weight="normal" font-style="normal" fill="#111111" color="#111111" font-family="'Liberation Serif', serif">1.4</text>
<line x1="493.7" y1="145.2" x2="495.2" y2="145.2" stroke="#8f8f8f" stroke-width="1"/>
<text x="496.7" y="149.23" font-size="9.8" text-anchor="start" font-weight="normal" font-style="normal" fill="#111111" color="#111111" font-family="'Liberation Serif', serif">1.6</text>
<line x1="493.7" y1="122.4" x2="495.2" y2="122.4" stroke="#8f8f8f" stroke-width="1"/>
<text x="496.7" y="126.43" font-size="9.8" text-anchor="start" font-weight="normal" font-style="normal" fill="#111111" color="#111111" font-family="'Liberation Serif', serif">1.8</text>
<line x1="493.7" y1="99.6" x2="495.2" y2="99.6" stroke="#8f8f8f" stroke-width="1"/>
<text x="496.7" y="103.63" font-size="9.8" text-anchor="start" font-weight="normal" font-style="normal" fill="#111111" color="#111111" font-family="'Liberation Serif', serif">2.0</text>
<line x1="493.7" y1="76.8" x2="495.2" y2="76.8" stroke="#8f8f8f" stroke-width="1"/>
<text x="496.7" y="80.83" font-size="9.8" text-anchor="start" font-weight="normal" font-style="normal" fill="#111111" color="#111111" font-family="'Liberation Serif', serif">2.2</text>
<line x1="493.7" y1="54" x2="495.2" y2="54" stroke="#8f8f8f" stroke-width="1"/>
<text x="496.7" y="58.03" font-size="9.8" text-anchor="start" font-weight="normal" font-style="normal" fill="#111111" color="#111111" font-family="'Liberation Serif', serif">2.4</text>
<line x1="493.7" y1="31.2" x2="495.2" y2="31.2" stroke="#8f8f8f" stroke-width="1"/>
<text x="496.7" y="35.23" font-size="9.8" text-anchor="start" font-weight="normal" font-style="normal" fill="#111111" color="#111111" font-family="'Liberation Serif', serif">2.6</text>
<line x1="292.2" y1="168.5" x2="292.2" y2="170" stroke="#8f8f8f" stroke-width="1"/>
<text x="292.2" y="179.1" font-size="9.8" text-anchor="middle" font-weight="normal" font-style="normal" fill="#111111" color="#111111" font-family="'Liberation Serif', serif">6</text>
<line x1="313.3" y1="168.5" x2="313.3" y2="170" stroke="#8f8f8f" stroke-width="1"/>
<text x="313.3" y="179.1" font-size="9.8" text-anchor="middle" font-weight="normal" font-style="normal" fill="#111111" color="#111111" font-family="'Liberation Serif', serif">8</text>
<line x1="334.4" y1="168.5" x2="334.4" y2="170" stroke="#8f8f8f" stroke-width="1"/>
<text x="334.4" y="179.1" font-size="9.8" text-anchor="middle" font-weight="normal" font-style="normal" fill="#111111" color="#111111" font-family="'Liberation Serif', serif">10</text>
<line x1="355.5" y1="168.5" x2="355.5" y2="170" stroke="#8f8f8f" stroke-width="1"/>
<text x="355.5" y="179.1" font-size="9.8" text-anchor="middle" font-weight="normal" font-style="normal" fill="#111111" color="#111111" font-family="'Liberation Serif', serif">12</text>
<line x1="376.6" y1="168.5" x2="376.6" y2="170" stroke="#8f8f8f" stroke-width="1"/>
<text x="376.6" y="179.1" font-size="9.8" text-anchor="middle" font-weight="normal" font-style="normal" fill="#111111" color="#111111" font-family="'Liberation Serif', serif">14</text>
<line x1="397.7" y1="168.5" x2="397.7" y2="170" stroke="#8f8f8f" stroke-width="1"/>
<text x="397.7" y="179.1" font-size="9.8" text-anchor="middle" font-weight="normal" font-style="normal" fill="#111111" color="#111111" font-family="'Liberation Serif', serif">16</text>
<line x1="418.8" y1="168.5" x2="418.8" y2="170" stroke="#8f8f8f" stroke-width="1"/>
<text x="418.8" y="179.1" font-size="9.8" text-anchor="middle" font-weight="normal" font-style="normal" fill="#111111" color="#111111" font-family="'Liberation Serif', serif">18</text>
<line x1="439.9" y1="168.5" x2="439.9" y2="170" stroke="#8f8f8f" stroke-width="1"/>
<text x="439.9" y="179.1" font-size="9.8" text-anchor="middle" font-weight="normal" font-style="normal" fill="#111111" color="#111111" font-family="'Liberation Serif', serif">20</text>
<line x1="461" y1="168.5" x2="461" y2="170" stroke="#8f8f8f" stroke-width="1"/>
<text x="461" y="179.1" font-size="9.8" text-anchor="middle" font-weight="normal" font-style="normal" fill="#111111" color="#111111" font-family="'Liberation Serif', serif">22</text>
<line x1="482.1" y1="168.5" x2="482.1" y2="170" stroke="#8f8f8f" stroke-width="1"/>
<text x="482.1" y="179.1" font-size="9.8" text-anchor="middle" font-weight="normal" font-style="normal" fill="#111111" color="#111111" font-family="'Liberation Serif', serif">24</text>
<text x="392.95" y="188.4" font-size="11.1" text-anchor="middle" fill="#111111" font-family="'Liberation Serif', serif">Cluster size, <tspan font-family="'Liberation Sans', sans-serif" font-style="italic">n</tspan></text>
<text x="256.2" y="11.6" font-size="14" text-anchor="start" font-weight="bold" font-style="normal" fill="#111111" color="#111111" font-family="'Liberation Serif', serif">B.</text>
<rect x="39.6" y="195.5" width="205" height="162.5" fill="none" stroke="#8f8f8f" stroke-width="1"/>
<line x1="37.1" y1="351.5" x2="39.6" y2="351.5" stroke="#8f8f8f" stroke-width="1"/>
<text x="35.6" y="355.53" font-size="9.8" text-anchor="end" font-weight="normal" font-style="normal" fill="#111111" color="#111111" font-family="'Liberation Serif', serif">130</text>
<line x1="37.1" y1="321.8" x2="39.6" y2="321.8" stroke="#8f8f8f" stroke-width="1"/>
<text x="35.6" y="325.83" font-size="9.8" text-anchor="end" font-weight="normal" font-style="normal" fill="#111111" color="#111111" font-family="'Liberation Serif', serif">140</text>
<line x1="37.1" y1="292.1" x2="39.6" y2="292.1" stroke="#8f8f8f" stroke-width="1"/>
<text x="35.6" y="296.13" font-size="9.8" text-anchor="end" font-weight="normal" font-style="normal" fill="#111111" color="#111111" font-family="'Liberation Serif', serif">150</text>
<line x1="37.1" y1="262.4" x2="39.6" y2="262.4" stroke="#8f8f8f" stroke-width="1"/>
<text x="35.6" y="266.43" font-size="9.8" text-anchor="end" font-weight="normal" font-style="normal" fill="#111111" color="#111111" font-family="'Liberation Serif', serif">160</text>
<line x1="37.1" y1="232.7" x2="39.6" y2="232.7" stroke="#8f8f8f" stroke-width="1"/>
<text x="35.6" y="236.73" font-size="9.8" text-anchor="end" font-weight="normal" font-style="normal" fill="#111111" color="#111111" font-family="'Liberation Serif', serif">170</text>
<line x1="37.1" y1="203" x2="39.6" y2="203" stroke="#8f8f8f" stroke-width="1"/>
<text x="35.6" y="207.03" font-size="9.8" text-anchor="end" font-weight="normal" font-style="normal" fill="#111111" color="#111111" font-family="'Liberation Serif', serif">180</text>
<line x1="52.6" y1="358" x2="52.6" y2="360.5" stroke="#8f8f8f" stroke-width="1"/>
<text x="52.6" y="370" font-size="9.8" text-anchor="middle" font-weight="normal" font-style="normal" fill="#111111" color="#111111" font-family="'Liberation Serif', serif">6</text>
<line x1="71.48" y1="358" x2="71.48" y2="360.5" stroke="#8f8f8f" stroke-width="1"/>
<text x="71.48" y="370" font-size="9.8" text-anchor="middle" font-weight="normal" font-style="normal" fill="#111111" color="#111111" font-family="'Liberation Serif', serif">8</text>
<line x1="90.36" y1="358" x2="90.36" y2="360.5" stroke="#8f8f8f" stroke-width="1"/>
<text x="90.36" y="370" font-size="9.8" text-anchor="middle" font-weight="normal" font-style="normal" fill="#111111" color="#111111" font-family="'Liberation Serif', serif">10</text>
<line x1="109.24" y1="358" x2="109.24" y2="360.5" stroke="#8f8f8f" stroke-width="1"/>
<text x="109.24" y="370" font-size="9.8" text-anchor="middle" font-weight="normal" font-style="normal" fill="#111111" color="#111111" font-family="'Liberation Serif', serif">12</text>
<line x1="128.12" y1="358" x2="128.12" y2="360.5" stroke="#8f8f8f" stroke-width="1"/>
<text x="128.12" y="370" font-size="9.8" text-anchor="middle" font-weight="normal" font-style="normal" fill="#111111" color="#111111" font-family="'Liberation Serif', serif">14</text>
<line x1="147" y1="358" x2="147" y2="360.5" stroke="#8f8f8f" stroke-width="1"/>
<text x="147" y="370" font-size="9.8" text-anchor="middle" font-weight="normal" font-style="normal" fill="#111111" color="#111111" font-family="'Liberation Serif', serif">16</text>
<line x1="165.88" y1="358" x2="165.88" y2="360.5" stroke="#8f8f8f" stroke-width="1"/>
<text x="165.88" y="370" font-size="9.8" text-anchor="middle" font-weight="normal" font-style="normal" fill="#111111" color="#111111" font-family="'Liberation Serif', serif">18</text>
<line x1="184.76" y1="358" x2="184.76" y2="360.5" stroke="#8f8f8f" stroke-width="1"/>
<text x="184.76" y="370" font-size="9.8" text-anchor="middle" font-weight="normal" font-style="normal" fill="#111111" color="#111111" font-family="'Liberation Serif', serif">20</text>
<line x1="203.64" y1="358" x2="203.64" y2="360.5" stroke="#8f8f8f" stroke-width="1"/>
<text x="203.64" y="370" font-size="9.8" text-anchor="middle" font-weight="normal" font-style="normal" fill="#111111" color="#111111" font-family="'Liberation Serif', serif">22</text>
<line x1="222.52" y1="358" x2="222.52" y2="360.5" stroke="#8f8f8f" stroke-width="1"/>
<text x="222.52" y="370" font-size="9.8" text-anchor="middle" font-weight="normal" font-style="normal" fill="#111111" color="#111111" font-family="'Liberation Serif', serif">24</text>
<text x="142.1" y="381" font-size="11.3" text-anchor="middle" fill="#111111" font-family="'Liberation Serif', serif">Cluster size, <tspan font-family="'Liberation Sans', sans-serif" font-style="italic">n</tspan></text>
<text x="1.3" y="198.4" font-size="14" text-anchor="start" font-weight="bold" font-style="normal" fill="#111111" color="#111111" font-family="'Liberation Serif', serif">C.</text>
<rect x="291.6" y="194.2" width="205.8" height="162.3" fill="none" stroke="#8f8f8f" stroke-width="1"/>
<line x1="289.1" y1="341.84" x2="291.6" y2="341.84" stroke="#8f8f8f" stroke-width="1"/>
<text x="287.6" y="345.87" font-size="9.8" text-anchor="end" font-weight="normal" font-style="normal" fill="#111111" color="#111111" font-family="'Liberation Serif', serif">60</text>
<line x1="289.1" y1="318.5" x2="291.6" y2="318.5" stroke="#8f8f8f" stroke-width="1"/>
<text x="287.6" y="322.53" font-size="9.8" text-anchor="end" font-weight="normal" font-style="normal" fill="#111111" color="#111111" font-family="'Liberation Serif', serif">80</text>
<line x1="289.1" y1="295.16" x2="291.6" y2="295.16" stroke="#8f8f8f" stroke-width="1"/>
<text x="287.6" y="299.19" font-size="9.8" text-anchor="end" font-weight="normal" font-style="normal" fill="#111111" color="#111111" font-family="'Liberation Serif', serif">100</text>
<line x1="289.1" y1="271.82" x2="291.6" y2="271.82" stroke="#8f8f8f" stroke-width="1"/>
<text x="287.6" y="275.85" font-size="9.8" text-anchor="end" font-weight="normal" font-style="normal" fill="#111111" color="#111111" font-family="'Liberation Serif', serif">120</text>
<line x1="289.1" y1="248.48" x2="291.6" y2="248.48" stroke="#8f8f8f" stroke-width="1"/>
<text x="287.6" y="252.51" font-size="9.8" text-anchor="end" font-weight="normal" font-style="normal" fill="#111111" color="#111111" font-family="'Liberation Serif', serif">140</text>
<line x1="289.1" y1="225.14" x2="291.6" y2="225.14" stroke="#8f8f8f" stroke-width="1"/>
<text x="287.6" y="229.17" font-size="9.8" text-anchor="end" font-weight="normal" font-style="normal" fill="#111111" color="#111111" font-family="'Liberation Serif', serif">160</text>
<line x1="289.1" y1="201.8" x2="291.6" y2="201.8" stroke="#8f8f8f" stroke-width="1"/>
<text x="287.6" y="205.83" font-size="9.8" text-anchor="end" font-weight="normal" font-style="normal" fill="#111111" color="#111111" font-family="'Liberation Serif', serif">180</text>
<line x1="305.2" y1="356.5" x2="305.2" y2="359" stroke="#8f8f8f" stroke-width="1"/>
<text x="305.2" y="369.1" font-size="9.8" text-anchor="middle" font-weight="normal" font-style="normal" fill="#111111" color="#111111" font-family="'Liberation Serif', serif">6</text>
<line x1="324.1" y1="356.5" x2="324.1" y2="359" stroke="#8f8f8f" stroke-width="1"/>
<text x="324.1" y="369.1" font-size="9.8" text-anchor="middle" font-weight="normal" font-style="normal" fill="#111111" color="#111111" font-family="'Liberation Serif', serif">8</text>
<line x1="343" y1="356.5" x2="343" y2="359" stroke="#8f8f8f" stroke-width="1"/>
<text x="343" y="369.1" font-size="9.8" text-anchor="middle" font-weight="normal" font-style="normal" fill="#111111" color="#111111" font-family="'Liberation Serif', serif">10</text>
<line x1="361.9" y1="356.5" x2="361.9" y2="359" stroke="#8f8f8f" stroke-width="1"/>
<text x="361.9" y="369.1" font-size="9.8" text-anchor="middle" font-weight="normal" font-style="normal" fill="#111111" color="#111111" font-family="'Liberation Serif', serif">12</text>
<line x1="380.8" y1="356.5" x2="380.8" y2="359" stroke="#8f8f8f" stroke-width="1"/>
<text x="380.8" y="369.1" font-size="9.8" text-anchor="middle" font-weight="normal" font-style="normal" fill="#111111" color="#111111" font-family="'Liberation Serif', serif">14</text>
<line x1="399.7" y1="356.5" x2="399.7" y2="359" stroke="#8f8f8f" stroke-width="1"/>
<text x="399.7" y="369.1" font-size="9.8" text-anchor="middle" font-weight="normal" font-style="normal" fill="#111111" color="#111111" font-family="'Liberation Serif', serif">16</text>
<line x1="418.6" y1="356.5" x2="418.6" y2="359" stroke="#8f8f8f" stroke-width="1"/>
<text x="418.6" y="369.1" font-size="9.8" text-anchor="middle" font-weight="normal" font-style="normal" fill="#111111" color="#111111" font-family="'Liberation Serif', serif">18</text>
<line x1="437.5" y1="356.5" x2="437.5" y2="359" stroke="#8f8f8f" stroke-width="1"/>
<text x="437.5" y="369.1" font-size="9.8" text-anchor="middle" font-weight="normal" font-style="normal" fill="#111111" color="#111111" font-family="'Liberation Serif', serif">20</text>
<line x1="456.4" y1="356.5" x2="456.4" y2="359" stroke="#8f8f8f" stroke-width="1"/>
<text x="456.4" y="369.1" font-size="9.8" text-anchor="middle" font-weight="normal" font-style="normal" fill="#111111" color="#111111" font-family="'Liberation Serif', serif">22</text>
<line x1="475.3" y1="356.5" x2="475.3" y2="359" stroke="#8f8f8f" stroke-width="1"/>
<text x="475.3" y="369.1" font-size="9.8" text-anchor="middle" font-weight="normal" font-style="normal" fill="#111111" color="#111111" font-family="'Liberation Serif', serif">24</text>
<text x="394.5" y="379.6" font-size="11.3" text-anchor="middle" fill="#111111" font-family="'Liberation Serif', serif">Cluster size, <tspan font-family="'Liberation Sans', sans-serif" font-style="italic">n</tspan></text>
<text x="256" y="198.2" font-size="14" text-anchor="start" font-weight="bold" font-style="normal" fill="#111111" color="#111111" font-family="'Liberation Serif', serif">D.</text>
<rect x="39.4" y="388.8" width="196.6" height="156.2" fill="none" stroke="#8f8f8f" stroke-width="1"/>
<line x1="36.9" y1="544.8" x2="39.4" y2="544.8" stroke="#8f8f8f" stroke-width="1"/>
<text x="35.4" y="548.83" font-size="9.8" text-anchor="end" font-weight="normal" font-style="normal" fill="#111111" color="#111111" font-family="'Liberation Serif', serif">0</text>
<line x1="36.9" y1="513.6" x2="39.4" y2="513.6" stroke="#8f8f8f" stroke-width="1"/>
<text x="35.4" y="517.63" font-size="9.8" text-anchor="end" font-weight="normal" font-style="normal" fill="#111111" color="#111111" font-family="'Liberation Serif', serif">20</text>
<line x1="36.9" y1="482.4" x2="39.4" y2="482.4" stroke="#8f8f8f" stroke-width="1"/>
<text x="35.4" y="486.43" font-size="9.8" text-anchor="end" font-weight="normal" font-style="normal" fill="#111111" color="#111111" font-family="'Liberation Serif', serif">40</text>
<line x1="36.9" y1="451.2" x2="39.4" y2="451.2" stroke="#8f8f8f" stroke-width="1"/>
<text x="35.4" y="455.23" font-size="9.8" text-anchor="end" font-weight="normal" font-style="normal" fill="#111111" color="#111111" font-family="'Liberation Serif', serif">60</text>
<line x1="36.9" y1="420" x2="39.4" y2="420" stroke="#8f8f8f" stroke-width="1"/>
<text x="35.4" y="424.03" font-size="9.8" text-anchor="end" font-weight="normal" font-style="normal" fill="#111111" color="#111111" font-family="'Liberation Serif', serif">80</text>
<line x1="36.9" y1="388.8" x2="39.4" y2="388.8" stroke="#8f8f8f" stroke-width="1"/>
<text x="35.4" y="392.83" font-size="9.8" text-anchor="end" font-weight="normal" font-style="normal" fill="#111111" color="#111111" font-family="'Liberation Serif', serif">100</text>
<line x1="39.5" y1="545" x2="39.5" y2="547.5" stroke="#8f8f8f" stroke-width="1"/>
<text x="39.5" y="556.8" font-size="9.8" text-anchor="middle" font-weight="normal" font-style="normal" fill="#111111" color="#111111" font-family="'Liberation Serif', serif">6</text>
<line x1="60.16" y1="545" x2="60.16" y2="547.5" stroke="#8f8f8f" stroke-width="1"/>
<text x="60.16" y="556.8" font-size="9.8" text-anchor="middle" font-weight="normal" font-style="normal" fill="#111111" color="#111111" font-family="'Liberation Serif', serif">8</text>
<line x1="80.82" y1="545" x2="80.82" y2="547.5" stroke="#8f8f8f" stroke-width="1"/>
<text x="80.82" y="556.8" font-size="9.8" text-anchor="middle" font-weight="normal" font-style="normal" fill="#111111" color="#111111" font-family="'Liberation Serif', serif">10</text>
<line x1="101.48" y1="545" x2="101.48" y2="547.5" stroke="#8f8f8f" stroke-width="1"/>
<text x="101.48" y="556.8" font-size="9.8" text-anchor="middle" font-weight="normal" font-style="normal" fill="#111111" color="#111111" font-family="'Liberation Serif', serif">12</text>
<line x1="122.14" y1="545" x2="122.14" y2="547.5" stroke="#8f8f8f" stroke-width="1"/>
<text x="122.14" y="556.8" font-size="9.8" text-anchor="middle" font-weight="normal" font-style="normal" fill="#111111" color="#111111" font-family="'Liberation Serif', serif">14</text>
<line x1="142.8" y1="545" x2="142.8" y2="547.5" stroke="#8f8f8f" stroke-width="1"/>
<text x="142.8" y="556.8" font-size="9.8" text-anchor="middle" font-weight="normal" font-style="normal" fill="#111111" color="#111111" font-family="'Liberation Serif', serif">16</text>
<line x1="163.46" y1="545" x2="163.46" y2="547.5" stroke="#8f8f8f" stroke-width="1"/>
<text x="163.46" y="556.8" font-size="9.8" text-anchor="middle" font-weight="normal" font-style="normal" fill="#111111" color="#111111" font-family="'Liberation Serif', serif">18</text>
<line x1="184.12" y1="545" x2="184.12" y2="547.5" stroke="#8f8f8f" stroke-width="1"/>
<text x="184.12" y="556.8" font-size="9.8" text-anchor="middle" font-weight="normal" font-style="normal" fill="#111111" color="#111111" font-family="'Liberation Serif', serif">20</text>
<line x1="204.78" y1="545" x2="204.78" y2="547.5" stroke="#8f8f8f" stroke-width="1"/>
<text x="204.78" y="556.8" font-size="9.8" text-anchor="middle" font-weight="normal" font-style="normal" fill="#111111" color="#111111" font-family="'Liberation Serif', serif">22</text>
<line x1="225.44" y1="545" x2="225.44" y2="547.5" stroke="#8f8f8f" stroke-width="1"/>
<text x="225.44" y="556.8" font-size="9.8" text-anchor="middle" font-weight="normal" font-style="normal" fill="#111111" color="#111111" font-family="'Liberation Serif', serif">24</text>
<text x="137.7" y="566.8" font-size="11" text-anchor="middle" fill="#111111" font-family="'Liberation Serif', serif">Cluster size, <tspan font-family="'Liberation Sans', sans-serif" font-style="italic">n</tspan></text>
<text x="16.2" y="467.6" font-size="10.9" text-anchor="middle" font-weight="normal" font-style="normal" fill="#111111" color="#111111" font-family="'Liberation Serif', serif" transform="rotate(-90 16.2 467.6)">% molecule type</text>
<text x="1.3" y="388.4" font-size="14" text-anchor="start" font-weight="bold" font-style="normal" fill="#111111" color="#111111" font-family="'Liberation Serif', serif">E.</text>
<rect x="291.7" y="387.5" width="197.3" height="155.9" fill="none" stroke="#8f8f8f" stroke-width="1"/>
<line x1="289.2" y1="543.4" x2="291.7" y2="543.4" stroke="#8f8f8f" stroke-width="1"/>
<text x="287.7" y="547.43" font-size="9.8" text-anchor="end" font-weight="normal" font-style="normal" fill="#111111" color="#111111" font-family="'Liberation Serif', serif">0</text>
<line x1="289.2" y1="512.2" x2="291.7" y2="512.2" stroke="#8f8f8f" stroke-width="1"/>
<text x="287.7" y="516.23" font-size="9.8" text-anchor="end" font-weight="normal" font-style="normal" fill="#111111" color="#111111" font-family="'Liberation Serif', serif">20</text>
<line x1="289.2" y1="481" x2="291.7" y2="481" stroke="#8f8f8f" stroke-width="1"/>
<text x="287.7" y="485.03" font-size="9.8" text-anchor="end" font-weight="normal" font-style="normal" fill="#111111" color="#111111" font-family="'Liberation Serif', serif">40</text>
<line x1="289.2" y1="449.8" x2="291.7" y2="449.8" stroke="#8f8f8f" stroke-width="1"/>
<text x="287.7" y="453.83" font-size="9.8" text-anchor="end" font-weight="normal" font-style="normal" fill="#111111" color="#111111" font-family="'Liberation Serif', serif">60</text>
<line x1="289.2" y1="418.6" x2="291.7" y2="418.6" stroke="#8f8f8f" stroke-width="1"/>
<text x="287.7" y="422.63" font-size="9.8" text-anchor="end" font-weight="normal" font-style="normal" fill="#111111" color="#111111" font-family="'Liberation Serif', serif">80</text>
<line x1="289.2" y1="387.4" x2="291.7" y2="387.4" stroke="#8f8f8f" stroke-width="1"/>
<text x="287.7" y="391.43" font-size="9.8" text-anchor="end" font-weight="normal" font-style="normal" fill="#111111" color="#111111" font-family="'Liberation Serif', serif">100</text>
<line x1="291.7" y1="543.4" x2="291.7" y2="545.9" stroke="#8f8f8f" stroke-width="1"/>
<text x="291.7" y="555.5" font-size="9.8" text-anchor="middle" font-weight="normal" font-style="normal" fill="#111111" color="#111111" font-family="'Liberation Serif', serif">6</text>
<line x1="312.46" y1="543.4" x2="312.46" y2="545.9" stroke="#8f8f8f" stroke-width="1"/>
<text x="312.46" y="555.5" font-size="9.8" text-anchor="middle" font-weight="normal" font-style="normal" fill="#111111" color="#111111" font-family="'Liberation Serif', serif">8</text>
<line x1="333.22" y1="543.4" x2="333.22" y2="545.9" stroke="#8f8f8f" stroke-width="1"/>
<text x="333.22" y="555.5" font-size="9.8" text-anchor="middle" font-weight="normal" font-style="normal" fill="#111111" color="#111111" font-family="'Liberation Serif', serif">10</text>
<line x1="353.98" y1="543.4" x2="353.98" y2="545.9" stroke="#8f8f8f" stroke-width="1"/>
<text x="353.98" y="555.5" font-size="9.8" text-anchor="middle" font-weight="normal" font-style="normal" fill="#111111" color="#111111" font-family="'Liberation Serif', serif">12</text>
<line x1="374.74" y1="543.4" x2="374.74" y2="545.9" stroke="#8f8f8f" stroke-width="1"/>
<text x="374.74" y="555.5" font-size="9.8" text-anchor="middle" font-weight="normal" font-style="normal" fill="#111111" color="#111111" font-family="'Liberation Serif', serif">14</text>
<line x1="395.5" y1="543.4" x2="395.5" y2="545.9" stroke="#8f8f8f" stroke-width="1"/>
<text x="395.5" y="555.5" font-size="9.8" text-anchor="middle" font-weight="normal" font-style="normal" fill="#111111" color="#111111" font-family="'Liberation Serif', serif">16</text>
<line x1="416.26" y1="543.4" x2="416.26" y2="545.9" stroke="#8f8f8f" stroke-width="1"/>
<text x="416.26" y="555.5" font-size="9.8" text-anchor="middle" font-weight="normal" font-style="normal" fill="#111111" color="#111111" font-family="'Liberation Serif', serif">18</text>
<line x1="437.02" y1="543.4" x2="437.02" y2="545.9" stroke="#8f8f8f" stroke-width="1"/>
<text x="437.02" y="555.5" font-size="9.8" text-anchor="middle" font-weight="normal" font-style="normal" fill="#111111" color="#111111" font-family="'Liberation Serif', serif">20</text>
<line x1="457.78" y1="543.4" x2="457.78" y2="545.9" stroke="#8f8f8f" stroke-width="1"/>
<text x="457.78" y="555.5" font-size="9.8" text-anchor="middle" font-weight="normal" font-style="normal" fill="#111111" color="#111111" font-family="'Liberation Serif', serif">22</text>
<line x1="478.54" y1="543.4" x2="478.54" y2="545.9" stroke="#8f8f8f" stroke-width="1"/>
<text x="478.54" y="555.5" font-size="9.8" text-anchor="middle" font-weight="normal" font-style="normal" fill="#111111" color="#111111" font-family="'Liberation Serif', serif">24</text>
<text x="390.35" y="565.1" font-size="11" text-anchor="middle" fill="#111111" font-family="'Liberation Serif', serif">Cluster size, <tspan font-family="'Liberation Sans', sans-serif" font-style="italic">n</tspan></text>
<text x="269.8" y="465.7" font-size="10.9" text-anchor="middle" font-weight="normal" font-style="normal" fill="#111111" color="#111111" font-family="'Liberation Serif', serif" transform="rotate(-90 269.8 465.7)">% cycle count</text>
<text x="256" y="388" font-size="14" text-anchor="start" font-weight="bold" font-style="normal" fill="#111111" color="#111111" font-family="'Liberation Serif', serif">F.</text>
<text transform="translate(267 97.8) rotate(-90)" font-size="15.5" fill="#d01020" color="#d01020" font-family="'Liberation Serif', serif" font-style="italic" text-anchor="start"><tspan textLength="11" lengthAdjust="spacingAndGlyphs">R</tspan><tspan font-size="10.5" dy="2" dx="0.3">g</tspan></text>
<text transform="translate(518 88.7) rotate(-90)" font-size="12.4" fill="#161698" color="#161698" font-family="'Liberation Serif', serif" text-anchor="middle">ASPL</text>
<text transform="translate(16.8 277) rotate(-90)" font-size="17" fill="#111111" font-family="'Liberation Serif', serif" font-style="italic" text-anchor="middle">&#952;<tspan font-size="12" dy="3.5">OHO</tspan></text>
<text transform="translate(268.8 275.5) rotate(-90)" font-size="17" fill="#111111" font-family="'Liberation Serif', serif" font-style="italic" text-anchor="middle">&#952;<tspan font-size="12" dy="3.5">OOO</tspan></text></svg>
</body></html>
